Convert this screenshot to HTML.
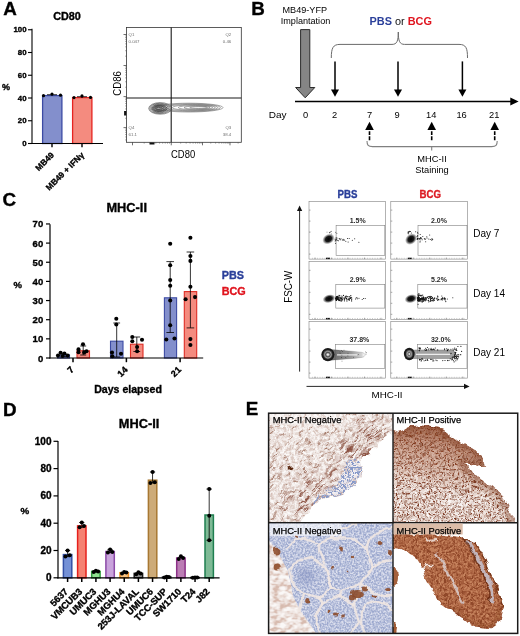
<!DOCTYPE html>
<html lang="en"><head><meta charset="utf-8"><title>Figure</title>
<style>
html,body{margin:0;padding:0;background:#fff;}
svg{display:block;font-family:"Liberation Sans",Arial,sans-serif;}
.b{font-weight:bold;}
</style></head><body>
<svg width="520" height="636" viewBox="0 0 520 636">
<rect width="520" height="636" fill="#fff"/>

<text x="3.3" y="15.2" font-size="18.8" font-weight="bold" stroke="#000" stroke-width="0.35" text-anchor="start" fill="#000">A</text>
<text x="251.2" y="15.2" font-size="18.8" font-weight="bold" stroke="#000" stroke-width="0.35" text-anchor="start" fill="#000">B</text>
<text x="2.6" y="205.6" font-size="18.8" font-weight="bold" stroke="#000" stroke-width="0.35" text-anchor="start" fill="#000">C</text>
<text x="3.0" y="415.7" font-size="18.8" font-weight="bold" stroke="#000" stroke-width="0.35" text-anchor="start" fill="#000">D</text>
<text x="245.8" y="415.2" font-size="18.8" font-weight="bold" stroke="#000" stroke-width="0.35" text-anchor="start" fill="#000">E</text>
<text x="67" y="19.7" font-size="10.8" font-weight="bold" stroke="#000" stroke-width="0.35" text-anchor="middle" fill="#000">CD80</text>
<line x1="32" y1="28.7" x2="32" y2="144.0" stroke="#000" stroke-width="1.1"/>
<line x1="31.5" y1="143.5" x2="103" y2="143.5" stroke="#000" stroke-width="1.1"/>
<line x1="28" y1="143.5" x2="32" y2="143.5" stroke="#000" stroke-width="1.1"/>
<text x="26.5" y="146.2" font-size="7.8" font-weight="bold" stroke="#000" stroke-width="0.35" text-anchor="end" fill="#000">0</text>
<line x1="28" y1="120.75" x2="32" y2="120.75" stroke="#000" stroke-width="1.1"/>
<text x="26.5" y="123.45" font-size="7.8" font-weight="bold" stroke="#000" stroke-width="0.35" text-anchor="end" fill="#000">20</text>
<line x1="28" y1="98.0" x2="32" y2="98.0" stroke="#000" stroke-width="1.1"/>
<text x="26.5" y="100.7" font-size="7.8" font-weight="bold" stroke="#000" stroke-width="0.35" text-anchor="end" fill="#000">40</text>
<line x1="28" y1="75.25" x2="32" y2="75.25" stroke="#000" stroke-width="1.1"/>
<text x="26.5" y="77.95" font-size="7.8" font-weight="bold" stroke="#000" stroke-width="0.35" text-anchor="end" fill="#000">60</text>
<line x1="28" y1="52.5" x2="32" y2="52.5" stroke="#000" stroke-width="1.1"/>
<text x="26.5" y="55.2" font-size="7.8" font-weight="bold" stroke="#000" stroke-width="0.35" text-anchor="end" fill="#000">80</text>
<line x1="28" y1="29.75" x2="32" y2="29.75" stroke="#000" stroke-width="1.1"/>
<text x="26.5" y="32.45" font-size="7.8" font-weight="bold" stroke="#000" stroke-width="0.35" text-anchor="end" fill="#000">100</text>
<text x="2" y="90" font-size="9" font-weight="bold" stroke="#000" stroke-width="0.35" text-anchor="start" fill="#000">%</text>
<rect x="42.6" y="95.6" width="19.299999999999997" height="47.9" fill="#838fcc" stroke="#3c4ba4" stroke-width="1.3"/>
<rect x="72.6" y="97.6" width="19.30000000000001" height="45.9" fill="#f48b7f" stroke="#e62420" stroke-width="1.3"/>
<line x1="31.5" y1="143.5" x2="103" y2="143.5" stroke="#000" stroke-width="1.1"/>
<line x1="47" y1="94.7" x2="57" y2="94.7" stroke="#000" stroke-width="0.8"/>
<line x1="52" y1="94.7" x2="52" y2="96" stroke="#000" stroke-width="0.8"/>
<circle cx="43.5" cy="95.7" r="1.6" fill="#000"/>
<circle cx="52.0" cy="94.0" r="1.6" fill="#000"/>
<circle cx="60.5" cy="95.2" r="1.6" fill="#000"/>
<line x1="77" y1="96.7" x2="87" y2="96.7" stroke="#000" stroke-width="0.8"/>
<line x1="82" y1="96.7" x2="82" y2="98" stroke="#000" stroke-width="0.8"/>
<circle cx="74.0" cy="97.6" r="1.6" fill="#000"/>
<circle cx="82.0" cy="95.9" r="1.6" fill="#000"/>
<circle cx="90.5" cy="97.4" r="1.6" fill="#000"/>
<line x1="52" y1="143.5" x2="52" y2="147.3" stroke="#000" stroke-width="1.4"/>
<line x1="82" y1="143.5" x2="82" y2="147.3" stroke="#000" stroke-width="1.4"/>
<text x="54.5" y="155.6" font-size="8.4" font-weight="bold" stroke="#000" stroke-width="0.35" text-anchor="end" fill="#000" transform="rotate(-45 54.5 155.6)">MB49</text>
<text x="84.7" y="155.6" font-size="8.4" font-weight="bold" stroke="#000" stroke-width="0.35" text-anchor="end" fill="#000" transform="rotate(-45 84.7 155.6)">MB49 + IFNγ</text>
<rect x="126.5" y="27.5" width="114.80000000000001" height="114.80000000000001" fill="#fff" stroke="#333" stroke-width="0.8"/>
<line x1="171.2" y1="27.5" x2="171.2" y2="142.3" stroke="#1a1a1a" stroke-width="1.1"/>
<line x1="126.5" y1="98" x2="241.3" y2="98" stroke="#1a1a1a" stroke-width="1.1"/>
<text x="0" y="0" font-size="10.8" text-anchor="middle" fill="#000" transform="translate(120.6 83.4) rotate(-90) scale(0.89 1)">CD86</text>
<text x="0" y="0" font-size="10.6" text-anchor="middle" fill="#000" transform="translate(183.1 158) scale(0.89 1)">CD80</text>
<text x="128.5" y="36" font-size="4.4" text-anchor="start" fill="#707070">Q1</text>
<text x="128.5" y="42.7" font-size="4.4" text-anchor="start" fill="#707070">0.047</text>
<text x="231.3" y="36" font-size="4.4" text-anchor="end" fill="#707070">Q2</text>
<text x="231.3" y="42.7" font-size="4.4" text-anchor="end" fill="#707070">0.46</text>
<text x="128.5" y="129.4" font-size="4.4" text-anchor="start" fill="#707070">Q4</text>
<text x="128.5" y="136.2" font-size="4.4" text-anchor="start" fill="#707070">61.1</text>
<text x="231.3" y="129.4" font-size="4.4" text-anchor="end" fill="#707070">Q3</text>
<text x="231.3" y="136.2" font-size="4.4" text-anchor="end" fill="#707070">38.4</text>
<g fill="none" stroke="#2a2a2a" stroke-width="0.5">
<ellipse cx="160.2" cy="108.4" rx="11.5" ry="5.8"/>
<ellipse cx="159.9" cy="108.4" rx="10.2" ry="5.1"/>
<ellipse cx="159.7" cy="108.4" rx="8.9" ry="4.4"/>
<ellipse cx="159.4" cy="108.4" rx="7.6" ry="3.8"/>
<ellipse cx="159.2" cy="108.4" rx="6.3" ry="3.1"/>
<ellipse cx="158.9" cy="108.4" rx="5.0" ry="2.4"/>
<ellipse cx="158.7" cy="108.4" rx="3.7" ry="1.7"/>
<ellipse cx="158.4" cy="108.4" rx="2.4" ry="1.0"/>
</g><g fill="none" stroke="#555" stroke-width="0.5">
<ellipse cx="189.0" cy="107.6" rx="34.0" ry="4.4"/>
<ellipse cx="190.6" cy="107.6" rx="29.8" ry="3.8"/>
<ellipse cx="192.2" cy="107.6" rx="25.6" ry="3.2"/>
<ellipse cx="193.8" cy="107.6" rx="21.4" ry="2.7"/>
<ellipse cx="195.4" cy="107.6" rx="17.2" ry="2.1"/>
<ellipse cx="197.0" cy="107.6" rx="13.0" ry="1.5"/>
<ellipse cx="198.6" cy="107.6" rx="8.8" ry="0.9"/>
</g>
<ellipse cx="159.5" cy="108.4" rx="8" ry="3.8" fill="#222" opacity="0.4"/>
<line x1="144.16491233197928" y1="142.3" x2="144.16491233197928" y2="143.70000000000002" stroke="#444" stroke-width="0.45"/>
<line x1="150.98844862038692" y1="142.3" x2="150.98844862038692" y2="143.70000000000002" stroke="#444" stroke-width="0.45"/>
<line x1="155.82982466395853" y1="142.3" x2="155.82982466395853" y2="143.70000000000002" stroke="#444" stroke-width="0.45"/>
<line x1="159.58508766802072" y1="142.3" x2="159.58508766802072" y2="143.70000000000002" stroke="#444" stroke-width="0.45"/>
<line x1="162.6533609523662" y1="142.3" x2="162.6533609523662" y2="143.70000000000002" stroke="#444" stroke-width="0.45"/>
<line x1="165.24754905055244" y1="142.3" x2="165.24754905055244" y2="143.70000000000002" stroke="#444" stroke-width="0.45"/>
<line x1="167.4947369959378" y1="142.3" x2="167.4947369959378" y2="143.70000000000002" stroke="#444" stroke-width="0.45"/>
<line x1="169.47689724077384" y1="142.3" x2="169.47689724077384" y2="143.70000000000002" stroke="#444" stroke-width="0.45"/>
<line x1="180.6571873644994" y1="142.3" x2="180.6571873644994" y2="143.70000000000002" stroke="#444" stroke-width="0.45"/>
<line x1="186.16003920998946" y1="142.3" x2="186.16003920998946" y2="143.70000000000002" stroke="#444" stroke-width="0.45"/>
<line x1="190.0643747289988" y1="142.3" x2="190.0643747289988" y2="143.70000000000002" stroke="#444" stroke-width="0.45"/>
<line x1="193.0928126355006" y1="142.3" x2="193.0928126355006" y2="143.70000000000002" stroke="#444" stroke-width="0.45"/>
<line x1="195.56722657448887" y1="142.3" x2="195.56722657448887" y2="143.70000000000002" stroke="#444" stroke-width="0.45"/>
<line x1="197.65931375044553" y1="142.3" x2="197.65931375044553" y2="143.70000000000002" stroke="#444" stroke-width="0.45"/>
<line x1="199.47156209349822" y1="142.3" x2="199.47156209349822" y2="143.70000000000002" stroke="#444" stroke-width="0.45"/>
<line x1="201.0700784199789" y1="142.3" x2="201.0700784199789" y2="143.70000000000002" stroke="#444" stroke-width="0.45"/>
<line x1="210.77832488075947" y1="142.3" x2="210.77832488075947" y2="143.70000000000002" stroke="#444" stroke-width="0.45"/>
<line x1="215.6208345047907" y1="142.3" x2="215.6208345047907" y2="143.70000000000002" stroke="#444" stroke-width="0.45"/>
<line x1="219.05664976151897" y1="142.3" x2="219.05664976151897" y2="143.70000000000002" stroke="#444" stroke-width="0.45"/>
<line x1="221.72167511924053" y1="142.3" x2="221.72167511924053" y2="143.70000000000002" stroke="#444" stroke-width="0.45"/>
<line x1="223.8991593855502" y1="142.3" x2="223.8991593855502" y2="143.70000000000002" stroke="#444" stroke-width="0.45"/>
<line x1="225.74019610039207" y1="142.3" x2="225.74019610039207" y2="143.70000000000002" stroke="#444" stroke-width="0.45"/>
<line x1="227.33497464227844" y1="142.3" x2="227.33497464227844" y2="143.70000000000002" stroke="#444" stroke-width="0.45"/>
<line x1="228.74166900958144" y1="142.3" x2="228.74166900958144" y2="143.70000000000002" stroke="#444" stroke-width="0.45"/>
<line x1="238.1278098829275" y1="142.3" x2="238.1278098829275" y2="143.70000000000002" stroke="#444" stroke-width="0.45"/>
<line x1="132.5" y1="142.3" x2="132.5" y2="145.3" stroke="#333" stroke-width="0.7"/>
<line x1="171.25" y1="142.3" x2="171.25" y2="145.3" stroke="#333" stroke-width="0.7"/>
<line x1="202.5" y1="142.3" x2="202.5" y2="145.3" stroke="#333" stroke-width="0.7"/>
<line x1="230" y1="142.3" x2="230" y2="145.3" stroke="#333" stroke-width="0.7"/>
<line x1="126.5" y1="139.93614026883316" x2="125.1" y2="139.93614026883316" stroke="#444" stroke-width="0.45"/>
<line x1="126.5" y1="136.9319298655834" x2="125.1" y2="136.9319298655834" stroke="#444" stroke-width="0.45"/>
<line x1="126.5" y1="134.47731123810703" x2="125.1" y2="134.47731123810703" stroke="#444" stroke-width="0.45"/>
<line x1="126.5" y1="132.40196075955802" x2="125.1" y2="132.40196075955802" stroke="#444" stroke-width="0.45"/>
<line x1="126.5" y1="130.60421040324974" x2="125.1" y2="130.60421040324974" stroke="#444" stroke-width="0.45"/>
<line x1="126.5" y1="129.0184822073809" x2="125.1" y2="129.0184822073809" stroke="#444" stroke-width="0.45"/>
<line x1="126.5" y1="118.26807013441658" x2="125.1" y2="118.26807013441658" stroke="#444" stroke-width="0.45"/>
<line x1="126.5" y1="112.80924110369045" x2="125.1" y2="112.80924110369045" stroke="#444" stroke-width="0.45"/>
<line x1="126.5" y1="108.93614026883316" x2="125.1" y2="108.93614026883316" stroke="#444" stroke-width="0.45"/>
<line x1="126.5" y1="105.93192986558341" x2="125.1" y2="105.93192986558341" stroke="#444" stroke-width="0.45"/>
<line x1="126.5" y1="103.47731123810703" x2="125.1" y2="103.47731123810703" stroke="#444" stroke-width="0.45"/>
<line x1="126.5" y1="101.40196075955804" x2="125.1" y2="101.40196075955804" stroke="#444" stroke-width="0.45"/>
<line x1="126.5" y1="99.60421040324974" x2="125.1" y2="99.60421040324974" stroke="#444" stroke-width="0.45"/>
<line x1="126.5" y1="98.01848220738093" x2="125.1" y2="98.01848220738093" stroke="#444" stroke-width="0.45"/>
<line x1="126.5" y1="87.23796713485018" x2="125.1" y2="87.23796713485018" stroke="#444" stroke-width="0.45"/>
<line x1="126.5" y1="81.7615289782185" x2="125.1" y2="81.7615289782185" stroke="#444" stroke-width="0.45"/>
<line x1="126.5" y1="77.87593426970037" x2="125.1" y2="77.87593426970037" stroke="#444" stroke-width="0.45"/>
<line x1="126.5" y1="74.86203286514981" x2="125.1" y2="74.86203286514981" stroke="#444" stroke-width="0.45"/>
<line x1="126.5" y1="72.39949611306868" x2="125.1" y2="72.39949611306868" stroke="#444" stroke-width="0.45"/>
<line x1="126.5" y1="70.31745095555661" x2="125.1" y2="70.31745095555661" stroke="#444" stroke-width="0.45"/>
<line x1="126.5" y1="68.51390140455055" x2="125.1" y2="68.51390140455055" stroke="#444" stroke-width="0.45"/>
<line x1="126.5" y1="66.92305795643699" x2="125.1" y2="66.92305795643699" stroke="#444" stroke-width="0.45"/>
<line x1="126.5" y1="56.16807013441658" x2="125.1" y2="56.16807013441658" stroke="#444" stroke-width="0.45"/>
<line x1="126.5" y1="50.709241103690466" x2="125.1" y2="50.709241103690466" stroke="#444" stroke-width="0.45"/>
<line x1="126.5" y1="46.83614026883316" x2="125.1" y2="46.83614026883316" stroke="#444" stroke-width="0.45"/>
<line x1="126.5" y1="43.83192986558342" x2="125.1" y2="43.83192986558342" stroke="#444" stroke-width="0.45"/>
<line x1="126.5" y1="41.37731123810705" x2="125.1" y2="41.37731123810705" stroke="#444" stroke-width="0.45"/>
<line x1="126.5" y1="39.30196075955804" x2="125.1" y2="39.30196075955804" stroke="#444" stroke-width="0.45"/>
<line x1="126.5" y1="37.50421040324975" x2="125.1" y2="37.50421040324975" stroke="#444" stroke-width="0.45"/>
<line x1="126.5" y1="35.91848220738093" x2="125.1" y2="35.91848220738093" stroke="#444" stroke-width="0.45"/>
<line x1="126.5" y1="127.6" x2="123.5" y2="127.6" stroke="#333" stroke-width="0.7"/>
<line x1="126.5" y1="96.6" x2="123.5" y2="96.6" stroke="#333" stroke-width="0.7"/>
<line x1="126.5" y1="65.5" x2="123.5" y2="65.5" stroke="#333" stroke-width="0.7"/>
<line x1="126.5" y1="34.5" x2="123.5" y2="34.5" stroke="#333" stroke-width="0.7"/>
<rect x="149.5" y="142.5" width="5" height="2" fill="#111"/>
<rect x="124.1" y="111" width="2.2" height="4.5" fill="#111"/>
<text x="304.8" y="13.1" font-size="9.1" text-anchor="middle" fill="#000">MB49-YFP</text>
<text x="305.5" y="23.5" font-size="9.1" text-anchor="middle" fill="#000">Implantation</text>
<polygon points="300.6,29.6 309.8,29.6 309.8,87.5 314.8,87.5 305.2,97.8 295.6,87.5 300.6,87.5" fill="#858585" stroke="#2a2a2a" stroke-width="1"/>
<line x1="295" y1="101.5" x2="513" y2="101.5" stroke="#000" stroke-width="1.6"/>
<polygon points="518.6,101.4 510.3,97.4 510.3,105.4" fill="#000"/>
<line x1="335" y1="61.4" x2="335" y2="91" stroke="#000" stroke-width="1.5"/>
<polygon points="335,96.8 331,89.4 339,89.4" fill="#000"/>
<line x1="398" y1="61.4" x2="398" y2="91" stroke="#000" stroke-width="1.5"/>
<polygon points="398,96.8 394,89.4 402,89.4" fill="#000"/>
<line x1="462.4" y1="61.4" x2="462.4" y2="91" stroke="#000" stroke-width="1.5"/>
<polygon points="462.4,96.8 458.4,89.4 466.4,89.4" fill="#000"/>
<path d="M331.3,58 C331.3,48 333,44.4 340,44.4 L392,44.4 C397,44.4 398.3,41 398.3,32 C398.3,41 399.6,44.4 404.6,44.4 L459,44.4 C466,44.4 467.5,48 467.5,58" fill="none" stroke="#6a6a6a" stroke-width="1"/>
<text x="369.6" y="24.8" font-size="10.9"><tspan font-weight="bold" fill="#2a3f9a">PBS</tspan><tspan fill="#111"> or </tspan><tspan font-weight="bold" fill="#e0141e">BCG</tspan></text>
<text x="0" y="0" font-size="9.2" text-anchor="start" fill="#000" transform="translate(268.7 117.9) scale(1.09 1)">Day</text>
<text x="305.7" y="117.9" font-size="9.3" text-anchor="middle" fill="#000">0</text>
<text x="334.5" y="117.9" font-size="9.3" text-anchor="middle" fill="#000">2</text>
<text x="369.5" y="117.9" font-size="9.3" text-anchor="middle" fill="#000">7</text>
<text x="397.2" y="117.9" font-size="9.3" text-anchor="middle" fill="#000">9</text>
<text x="431.2" y="117.9" font-size="9.3" text-anchor="middle" fill="#000">14</text>
<text x="461.6" y="117.9" font-size="9.3" text-anchor="middle" fill="#000">16</text>
<text x="494.2" y="117.9" font-size="9.3" text-anchor="middle" fill="#000">21</text>
<polygon points="369.5,121.8 365.2,129.9 373.8,129.9" fill="#000"/>
<line x1="369.5" y1="131.2" x2="369.5" y2="141" stroke="#000" stroke-width="1.6" stroke-dasharray="3.9,1.2"/>
<polygon points="431.7,121.8 427.4,129.9 436.0,129.9" fill="#000"/>
<line x1="431.7" y1="131.2" x2="431.7" y2="141" stroke="#000" stroke-width="1.6" stroke-dasharray="3.9,1.2"/>
<polygon points="494.7,121.8 490.4,129.9 499.0,129.9" fill="#000"/>
<line x1="494.7" y1="131.2" x2="494.7" y2="141" stroke="#000" stroke-width="1.6" stroke-dasharray="3.9,1.2"/>
<path d="M367,141 C367,145.2 368.2,146.6 372.5,146.6 L491.7,146.6 C496,146.6 497.2,145.2 497.2,141" fill="none" stroke="#808080" stroke-width="1.1"/>
<line x1="431.7" y1="146.6" x2="431.7" y2="150.6" stroke="#808080" stroke-width="1.1"/>
<text x="432" y="162.2" font-size="9.3" text-anchor="middle" fill="#000">MHC-II</text>
<text x="432" y="173" font-size="9.3" text-anchor="middle" fill="#000">Staining</text>
<text x="0" y="0" font-size="10.3" font-weight="bold" stroke="#2a3f9a" stroke-width="0.35" text-anchor="middle" fill="#2a3f9a" transform="translate(347.4 198) scale(0.94 1)">PBS</text>
<text x="0" y="0" font-size="10.3" font-weight="bold" stroke="#dc1c24" stroke-width="0.35" text-anchor="middle" fill="#dc1c24" transform="translate(430.2 197.8) scale(0.94 1)">BCG</text>
<rect x="309" y="201.4" width="76.39999999999998" height="57.70000000000002" fill="#fff" stroke="#808080" stroke-width="0.6"/>
<line x1="315.0" y1="257.6" x2="315.0" y2="259.1" stroke="#555" stroke-width="0.5"/>
<line x1="331.5" y1="257.6" x2="331.5" y2="259.1" stroke="#555" stroke-width="0.5"/>
<line x1="348.0" y1="257.6" x2="348.0" y2="259.1" stroke="#555" stroke-width="0.5"/>
<line x1="364.5" y1="257.6" x2="364.5" y2="259.1" stroke="#555" stroke-width="0.5"/>
<line x1="381.0" y1="257.6" x2="381.0" y2="259.1" stroke="#555" stroke-width="0.5"/>
<line x1="309" y1="254.10000000000002" x2="310.5" y2="254.10000000000002" stroke="#555" stroke-width="0.5"/>
<line x1="309" y1="243.10000000000002" x2="310.5" y2="243.10000000000002" stroke="#555" stroke-width="0.5"/>
<line x1="309" y1="232.10000000000002" x2="310.5" y2="232.10000000000002" stroke="#555" stroke-width="0.5"/>
<line x1="309" y1="221.10000000000002" x2="310.5" y2="221.10000000000002" stroke="#555" stroke-width="0.5"/>
<line x1="309" y1="210.10000000000002" x2="310.5" y2="210.10000000000002" stroke="#555" stroke-width="0.5"/>
<rect x="326" y="257.70000000000005" width="4" height="1.4" fill="#111"/>
<line x1="312" y1="258.3" x2="382.4" y2="258.3" stroke="#999" stroke-width="0.5" stroke-dasharray="1,1.5"/>
<rect x="390.8" y="201.4" width="76.69999999999999" height="57.70000000000002" fill="#fff" stroke="#808080" stroke-width="0.6"/>
<line x1="396.8" y1="257.6" x2="396.8" y2="259.1" stroke="#555" stroke-width="0.5"/>
<line x1="413.3" y1="257.6" x2="413.3" y2="259.1" stroke="#555" stroke-width="0.5"/>
<line x1="429.8" y1="257.6" x2="429.8" y2="259.1" stroke="#555" stroke-width="0.5"/>
<line x1="446.3" y1="257.6" x2="446.3" y2="259.1" stroke="#555" stroke-width="0.5"/>
<line x1="462.8" y1="257.6" x2="462.8" y2="259.1" stroke="#555" stroke-width="0.5"/>
<line x1="390.8" y1="254.10000000000002" x2="392.3" y2="254.10000000000002" stroke="#555" stroke-width="0.5"/>
<line x1="390.8" y1="243.10000000000002" x2="392.3" y2="243.10000000000002" stroke="#555" stroke-width="0.5"/>
<line x1="390.8" y1="232.10000000000002" x2="392.3" y2="232.10000000000002" stroke="#555" stroke-width="0.5"/>
<line x1="390.8" y1="221.10000000000002" x2="392.3" y2="221.10000000000002" stroke="#555" stroke-width="0.5"/>
<line x1="390.8" y1="210.10000000000002" x2="392.3" y2="210.10000000000002" stroke="#555" stroke-width="0.5"/>
<rect x="407.8" y="257.70000000000005" width="4" height="1.4" fill="#111"/>
<line x1="393.8" y1="258.3" x2="464.5" y2="258.3" stroke="#999" stroke-width="0.5" stroke-dasharray="1,1.5"/>
<rect x="309" y="261.6" width="76.39999999999998" height="57.69999999999999" fill="#fff" stroke="#808080" stroke-width="0.6"/>
<line x1="315.0" y1="317.8" x2="315.0" y2="319.3" stroke="#555" stroke-width="0.5"/>
<line x1="331.5" y1="317.8" x2="331.5" y2="319.3" stroke="#555" stroke-width="0.5"/>
<line x1="348.0" y1="317.8" x2="348.0" y2="319.3" stroke="#555" stroke-width="0.5"/>
<line x1="364.5" y1="317.8" x2="364.5" y2="319.3" stroke="#555" stroke-width="0.5"/>
<line x1="381.0" y1="317.8" x2="381.0" y2="319.3" stroke="#555" stroke-width="0.5"/>
<line x1="309" y1="314.3" x2="310.5" y2="314.3" stroke="#555" stroke-width="0.5"/>
<line x1="309" y1="303.3" x2="310.5" y2="303.3" stroke="#555" stroke-width="0.5"/>
<line x1="309" y1="292.3" x2="310.5" y2="292.3" stroke="#555" stroke-width="0.5"/>
<line x1="309" y1="281.3" x2="310.5" y2="281.3" stroke="#555" stroke-width="0.5"/>
<line x1="309" y1="270.3" x2="310.5" y2="270.3" stroke="#555" stroke-width="0.5"/>
<rect x="326" y="317.90000000000003" width="4" height="1.4" fill="#111"/>
<line x1="312" y1="318.5" x2="382.4" y2="318.5" stroke="#999" stroke-width="0.5" stroke-dasharray="1,1.5"/>
<rect x="390.8" y="261.6" width="76.69999999999999" height="57.69999999999999" fill="#fff" stroke="#808080" stroke-width="0.6"/>
<line x1="396.8" y1="317.8" x2="396.8" y2="319.3" stroke="#555" stroke-width="0.5"/>
<line x1="413.3" y1="317.8" x2="413.3" y2="319.3" stroke="#555" stroke-width="0.5"/>
<line x1="429.8" y1="317.8" x2="429.8" y2="319.3" stroke="#555" stroke-width="0.5"/>
<line x1="446.3" y1="317.8" x2="446.3" y2="319.3" stroke="#555" stroke-width="0.5"/>
<line x1="462.8" y1="317.8" x2="462.8" y2="319.3" stroke="#555" stroke-width="0.5"/>
<line x1="390.8" y1="314.3" x2="392.3" y2="314.3" stroke="#555" stroke-width="0.5"/>
<line x1="390.8" y1="303.3" x2="392.3" y2="303.3" stroke="#555" stroke-width="0.5"/>
<line x1="390.8" y1="292.3" x2="392.3" y2="292.3" stroke="#555" stroke-width="0.5"/>
<line x1="390.8" y1="281.3" x2="392.3" y2="281.3" stroke="#555" stroke-width="0.5"/>
<line x1="390.8" y1="270.3" x2="392.3" y2="270.3" stroke="#555" stroke-width="0.5"/>
<rect x="407.8" y="317.90000000000003" width="4" height="1.4" fill="#111"/>
<line x1="393.8" y1="318.5" x2="464.5" y2="318.5" stroke="#999" stroke-width="0.5" stroke-dasharray="1,1.5"/>
<rect x="309" y="321.4" width="76.39999999999998" height="56.700000000000045" fill="#fff" stroke="#808080" stroke-width="0.6"/>
<line x1="315.0" y1="376.6" x2="315.0" y2="378.1" stroke="#555" stroke-width="0.5"/>
<line x1="331.5" y1="376.6" x2="331.5" y2="378.1" stroke="#555" stroke-width="0.5"/>
<line x1="348.0" y1="376.6" x2="348.0" y2="378.1" stroke="#555" stroke-width="0.5"/>
<line x1="364.5" y1="376.6" x2="364.5" y2="378.1" stroke="#555" stroke-width="0.5"/>
<line x1="381.0" y1="376.6" x2="381.0" y2="378.1" stroke="#555" stroke-width="0.5"/>
<line x1="309" y1="373.1" x2="310.5" y2="373.1" stroke="#555" stroke-width="0.5"/>
<line x1="309" y1="362.1" x2="310.5" y2="362.1" stroke="#555" stroke-width="0.5"/>
<line x1="309" y1="351.1" x2="310.5" y2="351.1" stroke="#555" stroke-width="0.5"/>
<line x1="309" y1="340.1" x2="310.5" y2="340.1" stroke="#555" stroke-width="0.5"/>
<line x1="309" y1="329.1" x2="310.5" y2="329.1" stroke="#555" stroke-width="0.5"/>
<rect x="326" y="376.70000000000005" width="4" height="1.4" fill="#111"/>
<line x1="312" y1="377.3" x2="382.4" y2="377.3" stroke="#999" stroke-width="0.5" stroke-dasharray="1,1.5"/>
<rect x="390.8" y="321.4" width="76.69999999999999" height="56.700000000000045" fill="#fff" stroke="#808080" stroke-width="0.6"/>
<line x1="396.8" y1="376.6" x2="396.8" y2="378.1" stroke="#555" stroke-width="0.5"/>
<line x1="413.3" y1="376.6" x2="413.3" y2="378.1" stroke="#555" stroke-width="0.5"/>
<line x1="429.8" y1="376.6" x2="429.8" y2="378.1" stroke="#555" stroke-width="0.5"/>
<line x1="446.3" y1="376.6" x2="446.3" y2="378.1" stroke="#555" stroke-width="0.5"/>
<line x1="462.8" y1="376.6" x2="462.8" y2="378.1" stroke="#555" stroke-width="0.5"/>
<line x1="390.8" y1="373.1" x2="392.3" y2="373.1" stroke="#555" stroke-width="0.5"/>
<line x1="390.8" y1="362.1" x2="392.3" y2="362.1" stroke="#555" stroke-width="0.5"/>
<line x1="390.8" y1="351.1" x2="392.3" y2="351.1" stroke="#555" stroke-width="0.5"/>
<line x1="390.8" y1="340.1" x2="392.3" y2="340.1" stroke="#555" stroke-width="0.5"/>
<line x1="390.8" y1="329.1" x2="392.3" y2="329.1" stroke="#555" stroke-width="0.5"/>
<rect x="407.8" y="376.70000000000005" width="4" height="1.4" fill="#111"/>
<line x1="393.8" y1="377.3" x2="464.5" y2="377.3" stroke="#999" stroke-width="0.5" stroke-dasharray="1,1.5"/>
<rect x="336.1" y="225.3" width="48.69999999999999" height="30.399999999999977" fill="none" stroke="#808080" stroke-width="0.6"/>
<rect x="418" y="225.4" width="49" height="30.099999999999994" fill="none" stroke="#808080" stroke-width="0.6"/>
<rect x="335.8" y="284.4" width="49.0" height="23.700000000000045" fill="none" stroke="#808080" stroke-width="0.6"/>
<rect x="417.8" y="284.6" width="49.19999999999999" height="23.5" fill="none" stroke="#808080" stroke-width="0.6"/>
<rect x="335.5" y="344.3" width="49.30000000000001" height="24.099999999999966" fill="none" stroke="#808080" stroke-width="0.6"/>
<rect x="417.5" y="344.3" width="49.5" height="24.19999999999999" fill="none" stroke="#808080" stroke-width="0.6"/>
<text x="357.7" y="223.2" font-size="6.99" font-weight="bold" text-anchor="middle" fill="#2a2a2a">1.5%</text>
<text x="439" y="222.79999999999998" font-size="6.99" font-weight="bold" text-anchor="middle" fill="#2a2a2a">2.0%</text>
<text x="357.7" y="282.4" font-size="6.99" font-weight="bold" text-anchor="middle" fill="#2a2a2a">2.9%</text>
<text x="439" y="282.3" font-size="6.99" font-weight="bold" text-anchor="middle" fill="#2a2a2a">5.2%</text>
<text x="359.4" y="341.8" font-size="6.99" font-weight="bold" text-anchor="middle" fill="#2a2a2a">37.8%</text>
<text x="440.8" y="341.5" font-size="6.99" font-weight="bold" text-anchor="middle" fill="#2a2a2a">32.0%</text>
<defs><radialGradient id="bl"><stop offset="0" stop-color="#000"/><stop offset="0.5" stop-color="#1a1a1a"/><stop offset="0.75" stop-color="#666" stop-opacity="0.7"/><stop offset="1" stop-color="#999" stop-opacity="0"/></radialGradient></defs>
<ellipse cx="328.5" cy="239" rx="6.6" ry="5" fill="url(#bl)" transform="rotate(-30 328.5 239)"/>
<circle cx="338.3" cy="240.7" r="0.5" fill="#111"/>
<circle cx="335.2" cy="241.1" r="0.5" fill="#111"/>
<circle cx="343.1" cy="239.2" r="0.5" fill="#111"/>
<circle cx="342.4" cy="239.9" r="0.5" fill="#111"/>
<circle cx="335.1" cy="239.0" r="0.5" fill="#111"/>
<circle cx="335.3" cy="239.7" r="0.5" fill="#111"/>
<circle cx="340.3" cy="239.8" r="0.5" fill="#111"/>
<circle cx="336.7" cy="238.9" r="0.5" fill="#111"/>
<circle cx="345.8" cy="241.2" r="0.5" fill="#111"/>
<circle cx="339.7" cy="238.9" r="0.5" fill="#111"/>
<circle cx="358.9" cy="242.2" r="0.5" fill="#111"/>
<circle cx="337.7" cy="240.3" r="0.5" fill="#111"/>
<circle cx="335.8" cy="240.4" r="0.5" fill="#111"/>
<circle cx="352.3" cy="240.3" r="0.5" fill="#111"/>
<circle cx="336.1" cy="237.8" r="0.5" fill="#111"/>
<circle cx="339.2" cy="238.5" r="0.5" fill="#111"/>
<circle cx="343.5" cy="240.0" r="0.5" fill="#111"/>
<circle cx="336.5" cy="239.7" r="0.5" fill="#111"/>
<circle cx="347.5" cy="238.4" r="0.5" fill="#111"/>
<circle cx="344.5" cy="240.0" r="0.5" fill="#111"/>
<circle cx="341.0" cy="238.7" r="0.5" fill="#111"/>
<circle cx="348.1" cy="241.9" r="0.5" fill="#111"/>
<circle cx="337.0" cy="238.0" r="0.5" fill="#111"/>
<circle cx="354.7" cy="238.7" r="0.5" fill="#111"/>
<circle cx="349.2" cy="238.6" r="0.5" fill="#111"/>
<circle cx="335.5" cy="243.3" r="0.5" fill="#111"/>
<circle cx="329.3" cy="232.8" r="0.45" fill="#111"/>
<circle cx="330.0" cy="232.3" r="0.45" fill="#111"/>
<circle cx="327.0" cy="232.1" r="0.45" fill="#111"/>
<circle cx="331.0" cy="231.6" r="0.45" fill="#111"/>
<circle cx="335.7" cy="232.3" r="0.45" fill="#111"/>
<circle cx="331.3" cy="233.9" r="0.45" fill="#111"/>
<circle cx="331.1" cy="231.3" r="0.45" fill="#111"/>
<circle cx="336.9" cy="233.2" r="0.45" fill="#111"/>
<circle cx="329.9" cy="232.7" r="0.45" fill="#111"/>
<ellipse cx="411" cy="239.1" rx="6.6" ry="5.2" fill="url(#bl)" transform="rotate(-40 411 239.1)"/>
<circle cx="427.0" cy="238.0" r="0.5" fill="#111"/>
<circle cx="425.7" cy="241.8" r="0.5" fill="#111"/>
<circle cx="419.0" cy="238.4" r="0.5" fill="#111"/>
<circle cx="420.4" cy="238.3" r="0.5" fill="#111"/>
<circle cx="421.7" cy="238.2" r="0.5" fill="#111"/>
<circle cx="417.8" cy="239.0" r="0.5" fill="#111"/>
<circle cx="428.8" cy="238.9" r="0.5" fill="#111"/>
<circle cx="417.5" cy="238.5" r="0.5" fill="#111"/>
<circle cx="431.8" cy="240.3" r="0.5" fill="#111"/>
<circle cx="417.2" cy="236.3" r="0.5" fill="#111"/>
<circle cx="432.2" cy="239.2" r="0.5" fill="#111"/>
<circle cx="430.3" cy="239.5" r="0.5" fill="#111"/>
<circle cx="420.9" cy="237.4" r="0.5" fill="#111"/>
<circle cx="420.0" cy="241.9" r="0.5" fill="#111"/>
<circle cx="417.6" cy="235.5" r="0.5" fill="#111"/>
<circle cx="417.8" cy="238.6" r="0.5" fill="#111"/>
<circle cx="422.2" cy="239.8" r="0.5" fill="#111"/>
<circle cx="424.3" cy="238.5" r="0.5" fill="#111"/>
<circle cx="421.0" cy="238.7" r="0.5" fill="#111"/>
<circle cx="420.2" cy="234.4" r="0.5" fill="#111"/>
<circle cx="426.8" cy="236.7" r="0.5" fill="#111"/>
<circle cx="422.8" cy="236.5" r="0.5" fill="#111"/>
<circle cx="417.1" cy="236.7" r="0.5" fill="#111"/>
<circle cx="432.7" cy="239.2" r="0.5" fill="#111"/>
<circle cx="429.7" cy="234.9" r="0.5" fill="#111"/>
<circle cx="420.5" cy="237.8" r="0.5" fill="#111"/>
<circle cx="425.4" cy="239.0" r="0.5" fill="#111"/>
<circle cx="417.1" cy="239.6" r="0.5" fill="#111"/>
<circle cx="417.7" cy="239.0" r="0.5" fill="#111"/>
<circle cx="419.7" cy="238.5" r="0.5" fill="#111"/>
<circle cx="417.6" cy="238.5" r="0.5" fill="#111"/>
<circle cx="417.3" cy="238.2" r="0.5" fill="#111"/>
<circle cx="431.9" cy="238.8" r="0.5" fill="#111"/>
<circle cx="424.9" cy="239.3" r="0.5" fill="#111"/>
<circle cx="419.8" cy="239.6" r="0.5" fill="#111"/>
<circle cx="420.1" cy="241.0" r="0.5" fill="#111"/>
<circle cx="417.9" cy="233.2" r="0.5" fill="#111"/>
<circle cx="410.5" cy="231.6" r="0.5" fill="#111"/>
<circle cx="408.2" cy="232.0" r="0.5" fill="#111"/>
<circle cx="409.5" cy="231.8" r="0.5" fill="#111"/>
<circle cx="408.4" cy="233.7" r="0.5" fill="#111"/>
<circle cx="408.0" cy="233.1" r="0.5" fill="#111"/>
<circle cx="408.3" cy="231.7" r="0.5" fill="#111"/>
<circle cx="411.3" cy="233.1" r="0.5" fill="#111"/>
<circle cx="417.6" cy="232.2" r="0.5" fill="#111"/>
<circle cx="415.7" cy="231.8" r="0.5" fill="#111"/>
<circle cx="409.6" cy="231.3" r="0.5" fill="#111"/>
<circle cx="408.4" cy="232.2" r="0.5" fill="#111"/>
<ellipse cx="329" cy="298.7" rx="6.6" ry="4.3" fill="url(#bl)" transform="rotate(-15 329 298.7)"/>
<circle cx="346.2" cy="297.0" r="0.6" fill="#111"/>
<circle cx="338.2" cy="299.0" r="0.6" fill="#111"/>
<circle cx="351.6" cy="300.9" r="0.6" fill="#111"/>
<circle cx="348.0" cy="299.4" r="0.6" fill="#111"/>
<circle cx="345.3" cy="296.3" r="0.6" fill="#111"/>
<circle cx="337.1" cy="297.4" r="0.6" fill="#111"/>
<circle cx="336.0" cy="298.5" r="0.6" fill="#111"/>
<circle cx="336.0" cy="298.4" r="0.6" fill="#111"/>
<circle cx="344.3" cy="299.6" r="0.6" fill="#111"/>
<circle cx="350.8" cy="295.7" r="0.6" fill="#111"/>
<circle cx="351.7" cy="299.6" r="0.6" fill="#111"/>
<circle cx="350.7" cy="298.0" r="0.6" fill="#111"/>
<circle cx="337.1" cy="299.3" r="0.6" fill="#111"/>
<circle cx="336.9" cy="299.1" r="0.6" fill="#111"/>
<circle cx="349.2" cy="300.3" r="0.6" fill="#111"/>
<circle cx="347.7" cy="296.7" r="0.6" fill="#111"/>
<circle cx="346.7" cy="298.8" r="0.6" fill="#111"/>
<circle cx="336.2" cy="297.1" r="0.6" fill="#111"/>
<circle cx="346.3" cy="296.2" r="0.6" fill="#111"/>
<circle cx="345.5" cy="297.8" r="0.6" fill="#111"/>
<circle cx="346.4" cy="298.7" r="0.6" fill="#111"/>
<circle cx="338.2" cy="299.7" r="0.6" fill="#111"/>
<circle cx="339.0" cy="295.3" r="0.6" fill="#111"/>
<circle cx="339.1" cy="300.6" r="0.6" fill="#111"/>
<circle cx="336.7" cy="297.9" r="0.6" fill="#111"/>
<circle cx="336.4" cy="300.2" r="0.6" fill="#111"/>
<circle cx="346.9" cy="300.9" r="0.6" fill="#111"/>
<circle cx="336.5" cy="300.3" r="0.6" fill="#111"/>
<circle cx="343.5" cy="295.4" r="0.6" fill="#111"/>
<circle cx="338.4" cy="297.9" r="0.6" fill="#111"/>
<circle cx="336.0" cy="298.4" r="0.6" fill="#111"/>
<circle cx="351.2" cy="297.7" r="0.6" fill="#111"/>
<circle cx="350.1" cy="297.3" r="0.6" fill="#111"/>
<circle cx="339.6" cy="300.3" r="0.6" fill="#111"/>
<circle cx="337.0" cy="296.8" r="0.6" fill="#111"/>
<circle cx="337.3" cy="298.3" r="0.6" fill="#111"/>
<circle cx="342.1" cy="299.5" r="0.6" fill="#111"/>
<circle cx="337.4" cy="298.0" r="0.6" fill="#111"/>
<circle cx="349.5" cy="298.9" r="0.6" fill="#111"/>
<circle cx="338.5" cy="296.9" r="0.6" fill="#111"/>
<circle cx="349.3" cy="299.0" r="0.6" fill="#111"/>
<circle cx="339.4" cy="299.9" r="0.6" fill="#111"/>
<circle cx="341.1" cy="297.8" r="0.6" fill="#111"/>
<circle cx="341.0" cy="300.0" r="0.6" fill="#111"/>
<circle cx="336.8" cy="298.8" r="0.6" fill="#111"/>
<circle cx="336.0" cy="298.8" r="0.6" fill="#111"/>
<circle cx="340.2" cy="297.8" r="0.6" fill="#111"/>
<circle cx="345.0" cy="297.5" r="0.6" fill="#111"/>
<circle cx="340.9" cy="298.2" r="0.6" fill="#111"/>
<circle cx="341.6" cy="298.7" r="0.6" fill="#111"/>
<circle cx="341.6" cy="298.0" r="0.6" fill="#111"/>
<circle cx="337.3" cy="298.2" r="0.6" fill="#111"/>
<circle cx="340.7" cy="300.8" r="0.6" fill="#111"/>
<circle cx="341.7" cy="298.8" r="0.6" fill="#111"/>
<circle cx="339.7" cy="295.7" r="0.6" fill="#111"/>
<circle cx="342.6" cy="297.0" r="0.6" fill="#111"/>
<circle cx="344.3" cy="298.5" r="0.6" fill="#111"/>
<circle cx="339.8" cy="297.1" r="0.6" fill="#111"/>
<circle cx="350.4" cy="298.3" r="0.6" fill="#111"/>
<circle cx="344.4" cy="300.8" r="0.6" fill="#111"/>
<circle cx="337.4" cy="296.4" r="0.6" fill="#111"/>
<circle cx="341.6" cy="300.9" r="0.6" fill="#111"/>
<circle cx="336.4" cy="297.7" r="0.6" fill="#111"/>
<circle cx="336.4" cy="298.1" r="0.6" fill="#111"/>
<circle cx="337.2" cy="298.8" r="0.6" fill="#111"/>
<circle cx="336.1" cy="297.5" r="0.6" fill="#111"/>
<circle cx="349.2" cy="296.6" r="0.6" fill="#111"/>
<circle cx="336.6" cy="298.2" r="0.6" fill="#111"/>
<circle cx="336.5" cy="296.7" r="0.6" fill="#111"/>
<circle cx="348.8" cy="299.5" r="0.6" fill="#111"/>
<circle cx="363.5" cy="298.5" r="0.5" fill="#111"/>
<circle cx="341.7" cy="295.9" r="0.5" fill="#111"/>
<circle cx="357.6" cy="298.8" r="0.5" fill="#111"/>
<circle cx="337.1" cy="297.6" r="0.5" fill="#111"/>
<circle cx="340.3" cy="299.1" r="0.5" fill="#111"/>
<circle cx="337.6" cy="298.0" r="0.5" fill="#111"/>
<circle cx="336.0" cy="299.9" r="0.5" fill="#111"/>
<circle cx="346.4" cy="298.4" r="0.5" fill="#111"/>
<circle cx="340.1" cy="298.7" r="0.5" fill="#111"/>
<circle cx="348.8" cy="298.3" r="0.5" fill="#111"/>
<circle cx="365.2" cy="298.6" r="0.5" fill="#111"/>
<circle cx="355.6" cy="299.0" r="0.5" fill="#111"/>
<circle cx="338.8" cy="298.5" r="0.5" fill="#111"/>
<circle cx="336.1" cy="298.7" r="0.5" fill="#111"/>
<circle cx="336.8" cy="297.9" r="0.5" fill="#111"/>
<circle cx="342.4" cy="300.0" r="0.5" fill="#111"/>
<circle cx="338.6" cy="297.7" r="0.5" fill="#111"/>
<circle cx="337.0" cy="299.6" r="0.5" fill="#111"/>
<circle cx="351.8" cy="298.0" r="0.5" fill="#111"/>
<circle cx="336.4" cy="299.9" r="0.5" fill="#111"/>
<circle cx="342.4" cy="299.1" r="0.5" fill="#111"/>
<circle cx="336.3" cy="299.8" r="0.5" fill="#111"/>
<circle cx="356.1" cy="298.1" r="0.5" fill="#111"/>
<circle cx="336.3" cy="298.8" r="0.5" fill="#111"/>
<circle cx="359.0" cy="298.3" r="0.5" fill="#111"/>
<circle cx="343.2" cy="298.0" r="0.5" fill="#111"/>
<circle cx="362.2" cy="299.6" r="0.5" fill="#111"/>
<circle cx="338.8" cy="299.4" r="0.5" fill="#111"/>
<circle cx="338.3" cy="299.4" r="0.5" fill="#111"/>
<circle cx="336.6" cy="298.8" r="0.5" fill="#111"/>
<circle cx="337.7" cy="298.8" r="0.5" fill="#111"/>
<circle cx="339.7" cy="298.1" r="0.5" fill="#111"/>
<circle cx="339.2" cy="300.0" r="0.5" fill="#111"/>
<circle cx="344.6" cy="299.0" r="0.5" fill="#111"/>
<circle cx="336.0" cy="299.3" r="0.5" fill="#111"/>
<circle cx="338.5" cy="300.1" r="0.5" fill="#111"/>
<circle cx="346.3" cy="298.7" r="0.5" fill="#111"/>
<circle cx="337.5" cy="296.5" r="0.5" fill="#111"/>
<circle cx="336.5" cy="298.9" r="0.5" fill="#111"/>
<circle cx="356.9" cy="297.6" r="0.5" fill="#111"/>
<ellipse cx="411" cy="298.7" rx="6.6" ry="4.4" fill="url(#bl)" transform="rotate(-15 411 298.7)"/>
<circle cx="438.2" cy="299.4" r="0.6" fill="#111"/>
<circle cx="423.2" cy="296.8" r="0.6" fill="#111"/>
<circle cx="445.1" cy="298.7" r="0.6" fill="#111"/>
<circle cx="422.1" cy="299.8" r="0.6" fill="#111"/>
<circle cx="430.4" cy="297.0" r="0.6" fill="#111"/>
<circle cx="423.5" cy="298.5" r="0.6" fill="#111"/>
<circle cx="418.7" cy="299.2" r="0.6" fill="#111"/>
<circle cx="418.2" cy="298.7" r="0.6" fill="#111"/>
<circle cx="419.1" cy="297.8" r="0.6" fill="#111"/>
<circle cx="418.3" cy="300.2" r="0.6" fill="#111"/>
<circle cx="431.6" cy="296.6" r="0.6" fill="#111"/>
<circle cx="420.9" cy="298.9" r="0.6" fill="#111"/>
<circle cx="424.9" cy="299.9" r="0.6" fill="#111"/>
<circle cx="419.0" cy="297.8" r="0.6" fill="#111"/>
<circle cx="444.1" cy="299.1" r="0.6" fill="#111"/>
<circle cx="444.6" cy="297.9" r="0.6" fill="#111"/>
<circle cx="444.3" cy="298.5" r="0.6" fill="#111"/>
<circle cx="421.4" cy="298.8" r="0.6" fill="#111"/>
<circle cx="422.9" cy="298.8" r="0.6" fill="#111"/>
<circle cx="425.3" cy="297.9" r="0.6" fill="#111"/>
<circle cx="426.2" cy="298.8" r="0.6" fill="#111"/>
<circle cx="418.0" cy="298.7" r="0.6" fill="#111"/>
<circle cx="423.4" cy="299.4" r="0.6" fill="#111"/>
<circle cx="418.1" cy="299.9" r="0.6" fill="#111"/>
<circle cx="420.0" cy="299.0" r="0.6" fill="#111"/>
<circle cx="428.7" cy="296.7" r="0.6" fill="#111"/>
<circle cx="431.2" cy="298.4" r="0.6" fill="#111"/>
<circle cx="433.3" cy="299.7" r="0.6" fill="#111"/>
<circle cx="421.7" cy="297.9" r="0.6" fill="#111"/>
<circle cx="445.2" cy="300.0" r="0.6" fill="#111"/>
<circle cx="430.7" cy="300.5" r="0.6" fill="#111"/>
<circle cx="418.1" cy="300.2" r="0.6" fill="#111"/>
<circle cx="430.1" cy="296.4" r="0.6" fill="#111"/>
<circle cx="434.0" cy="299.1" r="0.6" fill="#111"/>
<circle cx="426.7" cy="298.1" r="0.6" fill="#111"/>
<circle cx="426.2" cy="300.0" r="0.6" fill="#111"/>
<circle cx="437.9" cy="296.8" r="0.6" fill="#111"/>
<circle cx="428.6" cy="300.3" r="0.6" fill="#111"/>
<circle cx="432.5" cy="297.6" r="0.6" fill="#111"/>
<circle cx="420.0" cy="299.5" r="0.6" fill="#111"/>
<circle cx="422.5" cy="298.9" r="0.6" fill="#111"/>
<circle cx="418.5" cy="299.7" r="0.6" fill="#111"/>
<circle cx="430.1" cy="297.4" r="0.6" fill="#111"/>
<circle cx="430.1" cy="298.2" r="0.6" fill="#111"/>
<circle cx="418.0" cy="297.4" r="0.6" fill="#111"/>
<circle cx="436.6" cy="298.8" r="0.6" fill="#111"/>
<circle cx="427.1" cy="297.3" r="0.6" fill="#111"/>
<circle cx="431.2" cy="300.7" r="0.6" fill="#111"/>
<circle cx="420.3" cy="299.7" r="0.6" fill="#111"/>
<circle cx="418.3" cy="298.6" r="0.6" fill="#111"/>
<circle cx="419.6" cy="300.9" r="0.6" fill="#111"/>
<circle cx="434.3" cy="300.3" r="0.6" fill="#111"/>
<circle cx="423.0" cy="298.6" r="0.6" fill="#111"/>
<circle cx="425.4" cy="297.9" r="0.6" fill="#111"/>
<circle cx="429.7" cy="296.8" r="0.6" fill="#111"/>
<circle cx="430.6" cy="299.4" r="0.6" fill="#111"/>
<circle cx="420.4" cy="299.1" r="0.6" fill="#111"/>
<circle cx="434.4" cy="298.2" r="0.6" fill="#111"/>
<circle cx="418.0" cy="300.4" r="0.6" fill="#111"/>
<circle cx="418.2" cy="298.6" r="0.6" fill="#111"/>
<circle cx="432.4" cy="300.7" r="0.6" fill="#111"/>
<circle cx="431.8" cy="298.4" r="0.6" fill="#111"/>
<circle cx="425.0" cy="300.3" r="0.6" fill="#111"/>
<circle cx="425.1" cy="300.8" r="0.6" fill="#111"/>
<circle cx="419.5" cy="300.7" r="0.6" fill="#111"/>
<circle cx="444.9" cy="299.0" r="0.6" fill="#111"/>
<circle cx="424.9" cy="298.7" r="0.6" fill="#111"/>
<circle cx="437.6" cy="300.2" r="0.6" fill="#111"/>
<circle cx="420.6" cy="298.5" r="0.6" fill="#111"/>
<circle cx="419.7" cy="299.6" r="0.6" fill="#111"/>
<circle cx="428.6" cy="298.5" r="0.6" fill="#111"/>
<circle cx="418.8" cy="295.6" r="0.6" fill="#111"/>
<circle cx="418.7" cy="298.3" r="0.6" fill="#111"/>
<circle cx="437.6" cy="296.1" r="0.6" fill="#111"/>
<circle cx="432.9" cy="298.7" r="0.6" fill="#111"/>
<circle cx="420.0" cy="300.0" r="0.6" fill="#111"/>
<circle cx="418.0" cy="297.9" r="0.6" fill="#111"/>
<circle cx="418.0" cy="297.4" r="0.6" fill="#111"/>
<circle cx="421.2" cy="298.9" r="0.6" fill="#111"/>
<circle cx="418.8" cy="298.2" r="0.6" fill="#111"/>
<circle cx="438.5" cy="299.7" r="0.6" fill="#111"/>
<circle cx="418.0" cy="298.8" r="0.6" fill="#111"/>
<circle cx="418.6" cy="296.3" r="0.6" fill="#111"/>
<circle cx="442.4" cy="298.2" r="0.6" fill="#111"/>
<circle cx="421.0" cy="296.1" r="0.6" fill="#111"/>
<circle cx="422.7" cy="295.1" r="0.6" fill="#111"/>
<circle cx="428.8" cy="301.8" r="0.6" fill="#111"/>
<circle cx="422.5" cy="297.9" r="0.6" fill="#111"/>
<circle cx="418.1" cy="299.3" r="0.6" fill="#111"/>
<circle cx="418.5" cy="299.3" r="0.6" fill="#111"/>
<circle cx="442.8" cy="297.9" r="0.6" fill="#111"/>
<circle cx="420.3" cy="298.6" r="0.6" fill="#111"/>
<circle cx="419.4" cy="300.3" r="0.6" fill="#111"/>
<circle cx="422.8" cy="301.4" r="0.6" fill="#111"/>
<circle cx="437.2" cy="298.1" r="0.6" fill="#111"/>
<circle cx="430.2" cy="301.4" r="0.6" fill="#111"/>
<circle cx="427.5" cy="297.2" r="0.6" fill="#111"/>
<circle cx="433.5" cy="300.8" r="0.6" fill="#111"/>
<circle cx="424.7" cy="299.4" r="0.6" fill="#111"/>
<circle cx="434.8" cy="298.1" r="0.6" fill="#111"/>
<circle cx="418.1" cy="298.0" r="0.6" fill="#111"/>
<circle cx="442.4" cy="299.8" r="0.6" fill="#111"/>
<circle cx="422.1" cy="299.9" r="0.6" fill="#111"/>
<circle cx="421.2" cy="298.6" r="0.6" fill="#111"/>
<circle cx="420.5" cy="295.3" r="0.6" fill="#111"/>
<circle cx="431.1" cy="298.3" r="0.6" fill="#111"/>
<circle cx="423.2" cy="300.4" r="0.6" fill="#111"/>
<circle cx="419.1" cy="299.3" r="0.6" fill="#111"/>
<circle cx="441.4" cy="299.6" r="0.6" fill="#111"/>
<circle cx="426.0" cy="299.3" r="0.6" fill="#111"/>
<circle cx="445.8" cy="301.6" r="0.6" fill="#111"/>
<circle cx="424.7" cy="299.3" r="0.6" fill="#111"/>
<circle cx="418.4" cy="299.5" r="0.6" fill="#111"/>
<circle cx="422.1" cy="299.6" r="0.6" fill="#111"/>
<circle cx="420.4" cy="299.3" r="0.6" fill="#111"/>
<circle cx="428.2" cy="300.4" r="0.6" fill="#111"/>
<circle cx="423.7" cy="297.4" r="0.6" fill="#111"/>
<circle cx="423.7" cy="297.6" r="0.6" fill="#111"/>
<circle cx="422.0" cy="298.6" r="0.6" fill="#111"/>
<circle cx="418.2" cy="298.2" r="0.6" fill="#111"/>
<circle cx="418.1" cy="304.2" r="0.55" fill="#111"/>
<circle cx="419.7" cy="295.5" r="0.55" fill="#111"/>
<circle cx="418.4" cy="295.3" r="0.55" fill="#111"/>
<circle cx="418.6" cy="298.5" r="0.55" fill="#111"/>
<circle cx="419.4" cy="300.7" r="0.55" fill="#111"/>
<circle cx="423.5" cy="301.1" r="0.55" fill="#111"/>
<circle cx="418.0" cy="294.9" r="0.55" fill="#111"/>
<circle cx="418.0" cy="297.3" r="0.55" fill="#111"/>
<circle cx="419.6" cy="294.0" r="0.55" fill="#111"/>
<circle cx="420.3" cy="300.7" r="0.55" fill="#111"/>
<circle cx="423.2" cy="298.5" r="0.55" fill="#111"/>
<circle cx="422.2" cy="302.1" r="0.55" fill="#111"/>
<circle cx="418.5" cy="293.9" r="0.55" fill="#111"/>
<circle cx="418.1" cy="300.0" r="0.55" fill="#111"/>
<circle cx="421.0" cy="300.7" r="0.55" fill="#111"/>
<circle cx="423.4" cy="297.9" r="0.55" fill="#111"/>
<circle cx="421.7" cy="295.4" r="0.55" fill="#111"/>
<circle cx="419.5" cy="297.9" r="0.55" fill="#111"/>
<circle cx="421.9" cy="298.3" r="0.55" fill="#111"/>
<circle cx="418.4" cy="301.3" r="0.55" fill="#111"/>
<circle cx="418.7" cy="297.0" r="0.55" fill="#111"/>
<circle cx="418.1" cy="298.5" r="0.55" fill="#111"/>
<circle cx="421.1" cy="301.6" r="0.55" fill="#111"/>
<circle cx="418.1" cy="300.9" r="0.55" fill="#111"/>
<circle cx="420.3" cy="299.6" r="0.55" fill="#111"/>
<circle cx="442.9" cy="298.6" r="0.5" fill="#111"/>
<circle cx="440.0" cy="299.7" r="0.5" fill="#111"/>
<circle cx="441.8" cy="295.9" r="0.5" fill="#111"/>
<circle cx="447.3" cy="299.0" r="0.5" fill="#111"/>
<circle cx="452.8" cy="297.7" r="0.5" fill="#111"/>
<circle cx="441.3" cy="298.5" r="0.5" fill="#111"/>
<defs><linearGradient id="tail" x1="0" x2="1"><stop offset="0" stop-color="#555" stop-opacity="0.9"/><stop offset="0.6" stop-color="#777" stop-opacity="0.75"/><stop offset="0.9" stop-color="#999" stop-opacity="0.45"/><stop offset="1" stop-color="#bbb" stop-opacity="0"/></linearGradient></defs>
<path d="M331,349.6 C340,350.4 352,351 362,352.4 C366,353.4 366,356.4 362,357.4 C352,358.8 340,359.4 331,360.2 Z" fill="url(#tail)" stroke="#555" stroke-width="0.4" stroke-opacity="0.6"/>
<line x1="337" y1="354.9" x2="357" y2="354.9" stroke="#f4f4f4" stroke-width="1.1"/>
<circle cx="327.9" cy="354.6" r="6.6" fill="#1a1a1a"/><circle cx="327.9" cy="354.6" r="4.6" fill="#555"/><circle cx="327.9" cy="354.6" r="3.4" fill="none" stroke="#ccc" stroke-width="0.6"/><circle cx="327.9" cy="354.6" r="1.7" fill="#bbb"/><circle cx="327.9" cy="354.6" r="0.8" fill="#fff"/>
<circle cx="366.0" cy="354.0" r="0.4" fill="#111"/>
<circle cx="340.0" cy="351.9" r="0.4" fill="#111"/>
<circle cx="348.0" cy="353.2" r="0.4" fill="#111"/>
<circle cx="342.4" cy="351.6" r="0.4" fill="#111"/>
<circle cx="353.5" cy="357.2" r="0.4" fill="#111"/>
<circle cx="340.1" cy="353.7" r="0.4" fill="#111"/>
<circle cx="344.0" cy="350.1" r="0.4" fill="#111"/>
<circle cx="341.5" cy="357.5" r="0.4" fill="#111"/>
<circle cx="358.6" cy="354.6" r="0.4" fill="#111"/>
<circle cx="341.6" cy="350.6" r="0.4" fill="#111"/>
<circle cx="366.5" cy="352.4" r="0.4" fill="#111"/>
<circle cx="342.0" cy="361.1" r="0.4" fill="#111"/>
<circle cx="341.9" cy="355.1" r="0.4" fill="#111"/>
<circle cx="365.6" cy="351.9" r="0.4" fill="#111"/>
<circle cx="347.9" cy="355.9" r="0.4" fill="#111"/>
<circle cx="345.8" cy="357.3" r="0.4" fill="#111"/>
<rect x="411" y="350" width="44" height="8.8" rx="4" fill="#8a8a8a" opacity="0.8" stroke="#444" stroke-width="0.4"/>
<line x1="416" y1="354.4" x2="450" y2="354.4" stroke="#eee" stroke-width="1.1"/>
<ellipse cx="409.3" cy="354" rx="5.4" ry="6.2" fill="#1a1a1a"/><ellipse cx="409.3" cy="354" rx="3.4" ry="4" fill="#666"/><ellipse cx="409.3" cy="354" rx="2.2" ry="2.7" fill="none" stroke="#ccc" stroke-width="0.5"/><circle cx="409.3" cy="354" r="0.9" fill="#ddd"/>
<circle cx="444.6" cy="349.6" r="0.55" fill="#111"/>
<circle cx="433.7" cy="349.1" r="0.55" fill="#111"/>
<circle cx="426.5" cy="349.6" r="0.55" fill="#111"/>
<circle cx="420.1" cy="349.1" r="0.55" fill="#111"/>
<circle cx="420.4" cy="348.0" r="0.55" fill="#111"/>
<circle cx="453.3" cy="350.1" r="0.55" fill="#111"/>
<circle cx="447.3" cy="350.8" r="0.55" fill="#111"/>
<circle cx="431.2" cy="349.2" r="0.55" fill="#111"/>
<circle cx="425.4" cy="350.3" r="0.55" fill="#111"/>
<circle cx="419.3" cy="348.7" r="0.55" fill="#111"/>
<circle cx="444.6" cy="348.7" r="0.55" fill="#111"/>
<circle cx="431.3" cy="349.7" r="0.55" fill="#111"/>
<circle cx="424.8" cy="349.8" r="0.55" fill="#111"/>
<circle cx="432.1" cy="349.2" r="0.55" fill="#111"/>
<circle cx="456.2" cy="350.5" r="0.55" fill="#111"/>
<circle cx="426.3" cy="350.5" r="0.55" fill="#111"/>
<circle cx="432.3" cy="349.8" r="0.55" fill="#111"/>
<circle cx="435.3" cy="348.0" r="0.55" fill="#111"/>
<circle cx="420.0" cy="348.5" r="0.55" fill="#111"/>
<circle cx="454.8" cy="349.3" r="0.55" fill="#111"/>
<circle cx="425.7" cy="348.2" r="0.55" fill="#111"/>
<circle cx="419.2" cy="350.3" r="0.55" fill="#111"/>
<circle cx="434.4" cy="349.7" r="0.55" fill="#111"/>
<circle cx="419.6" cy="348.1" r="0.55" fill="#111"/>
<circle cx="419.4" cy="350.7" r="0.55" fill="#111"/>
<circle cx="428.3" cy="349.8" r="0.55" fill="#111"/>
<circle cx="447.9" cy="349.7" r="0.55" fill="#111"/>
<circle cx="428.9" cy="348.8" r="0.55" fill="#111"/>
<circle cx="456.3" cy="348.8" r="0.55" fill="#111"/>
<circle cx="446.7" cy="348.8" r="0.55" fill="#111"/>
<circle cx="430.7" cy="349.2" r="0.55" fill="#111"/>
<circle cx="448.2" cy="349.3" r="0.55" fill="#111"/>
<circle cx="454.7" cy="348.1" r="0.55" fill="#111"/>
<circle cx="419.0" cy="347.9" r="0.55" fill="#111"/>
<circle cx="427.4" cy="347.5" r="0.55" fill="#111"/>
<circle cx="456.2" cy="349.5" r="0.55" fill="#111"/>
<circle cx="433.5" cy="349.2" r="0.55" fill="#111"/>
<circle cx="437.7" cy="349.9" r="0.55" fill="#111"/>
<circle cx="455.1" cy="349.7" r="0.55" fill="#111"/>
<circle cx="447.5" cy="350.4" r="0.55" fill="#111"/>
<circle cx="450.9" cy="349.3" r="0.55" fill="#111"/>
<circle cx="431.1" cy="348.3" r="0.55" fill="#111"/>
<circle cx="430.8" cy="359.2" r="0.55" fill="#111"/>
<circle cx="421.2" cy="360.9" r="0.55" fill="#111"/>
<circle cx="425.9" cy="360.0" r="0.55" fill="#111"/>
<circle cx="420.6" cy="359.5" r="0.55" fill="#111"/>
<circle cx="419.4" cy="359.4" r="0.55" fill="#111"/>
<circle cx="457.2" cy="359.8" r="0.55" fill="#111"/>
<circle cx="453.3" cy="360.5" r="0.55" fill="#111"/>
<circle cx="421.4" cy="360.0" r="0.55" fill="#111"/>
<circle cx="421.9" cy="358.9" r="0.55" fill="#111"/>
<circle cx="435.9" cy="360.0" r="0.55" fill="#111"/>
<circle cx="427.4" cy="359.2" r="0.55" fill="#111"/>
<circle cx="445.0" cy="360.5" r="0.55" fill="#111"/>
<circle cx="447.9" cy="360.6" r="0.55" fill="#111"/>
<circle cx="422.8" cy="359.2" r="0.55" fill="#111"/>
<circle cx="451.6" cy="359.8" r="0.55" fill="#111"/>
<circle cx="432.9" cy="360.9" r="0.55" fill="#111"/>
<circle cx="447.5" cy="360.2" r="0.55" fill="#111"/>
<circle cx="427.8" cy="360.5" r="0.55" fill="#111"/>
<circle cx="424.1" cy="360.7" r="0.55" fill="#111"/>
<circle cx="431.1" cy="359.4" r="0.55" fill="#111"/>
<circle cx="433.8" cy="360.8" r="0.55" fill="#111"/>
<circle cx="427.3" cy="360.0" r="0.55" fill="#111"/>
<circle cx="450.3" cy="358.8" r="0.55" fill="#111"/>
<circle cx="422.1" cy="358.2" r="0.55" fill="#111"/>
<circle cx="437.0" cy="360.6" r="0.55" fill="#111"/>
<circle cx="454.6" cy="358.8" r="0.55" fill="#111"/>
<circle cx="419.6" cy="359.9" r="0.55" fill="#111"/>
<circle cx="425.6" cy="360.3" r="0.55" fill="#111"/>
<circle cx="456.9" cy="358.6" r="0.55" fill="#111"/>
<circle cx="432.9" cy="359.2" r="0.55" fill="#111"/>
<circle cx="452.6" cy="359.5" r="0.55" fill="#111"/>
<circle cx="449.1" cy="360.2" r="0.55" fill="#111"/>
<circle cx="455.8" cy="360.7" r="0.55" fill="#111"/>
<circle cx="442.8" cy="360.6" r="0.55" fill="#111"/>
<circle cx="456.4" cy="357.4" r="0.6" fill="#111"/>
<circle cx="456.9" cy="356.1" r="0.6" fill="#111"/>
<circle cx="455.9" cy="358.7" r="0.6" fill="#111"/>
<circle cx="455.1" cy="352.6" r="0.6" fill="#111"/>
<circle cx="458.0" cy="354.6" r="0.6" fill="#111"/>
<circle cx="455.4" cy="352.6" r="0.6" fill="#111"/>
<circle cx="455.4" cy="356.4" r="0.6" fill="#111"/>
<circle cx="456.8" cy="350.5" r="0.6" fill="#111"/>
<circle cx="456.9" cy="355.0" r="0.6" fill="#111"/>
<circle cx="453.8" cy="356.9" r="0.6" fill="#111"/>
<circle cx="455.4" cy="353.3" r="0.6" fill="#111"/>
<circle cx="457.8" cy="358.6" r="0.6" fill="#111"/>
<circle cx="454.5" cy="355.8" r="0.6" fill="#111"/>
<circle cx="454.1" cy="361.8" r="0.6" fill="#111"/>
<circle cx="454.9" cy="358.2" r="0.6" fill="#111"/>
<circle cx="454.6" cy="357.0" r="0.6" fill="#111"/>
<circle cx="460.9" cy="346.3" r="0.6" fill="#111"/>
<circle cx="455.0" cy="356.0" r="0.6" fill="#111"/>
<circle cx="455.8" cy="352.3" r="0.6" fill="#111"/>
<circle cx="460.7" cy="354.7" r="0.6" fill="#111"/>
<circle cx="452.4" cy="357.1" r="0.6" fill="#111"/>
<circle cx="452.2" cy="358.1" r="0.6" fill="#111"/>
<circle cx="454.7" cy="354.9" r="0.6" fill="#111"/>
<circle cx="458.8" cy="354.8" r="0.6" fill="#111"/>
<circle cx="452.9" cy="349.0" r="0.6" fill="#111"/>
<circle cx="458.6" cy="356.8" r="0.6" fill="#111"/>
<circle cx="454.2" cy="357.2" r="0.6" fill="#111"/>
<circle cx="457.1" cy="356.5" r="0.6" fill="#111"/>
<circle cx="451.0" cy="353.4" r="0.6" fill="#111"/>
<circle cx="458.0" cy="356.7" r="0.6" fill="#111"/>
<circle cx="457.9" cy="346.5" r="0.6" fill="#111"/>
<circle cx="456.4" cy="356.0" r="0.6" fill="#111"/>
<circle cx="461.6" cy="351.3" r="0.6" fill="#111"/>
<circle cx="455.3" cy="354.5" r="0.6" fill="#111"/>
<text x="473.3" y="236.8" font-size="10" text-anchor="start" fill="#000">Day 7</text>
<text x="473.3" y="296.7" font-size="10" text-anchor="start" fill="#000">Day 14</text>
<text x="473.3" y="356.2" font-size="10" text-anchor="start" fill="#000">Day 21</text>
<line x1="299.6" y1="210" x2="299.6" y2="371.6" stroke="#111" stroke-width="0.9"/>
<polygon points="299.6,205.6 297,211 302.2,211" fill="#111"/>
<line x1="306.5" y1="386.4" x2="465" y2="386.4" stroke="#111" stroke-width="0.9"/>
<polygon points="469.6,386.4 464,383.8 464,389" fill="#111"/>
<text x="0" y="0" font-size="10.4" text-anchor="middle" fill="#000" transform="translate(292.1 286.8) rotate(-90) scale(0.94 1)">FSC-W</text>
<text x="387.1" y="398" font-size="9.8" text-anchor="middle" fill="#000">MHC-II</text>
<text x="126.7" y="212" font-size="12.8" font-weight="bold" stroke="#000" stroke-width="0.35" text-anchor="middle" fill="#000">MHC-II</text>
<line x1="50" y1="224.2" x2="50" y2="358.6" stroke="#000" stroke-width="1.2"/>
<line x1="46" y1="358.0" x2="50" y2="358.0" stroke="#000" stroke-width="1.2"/>
<text x="43.2" y="361.5" font-size="9.5" font-weight="bold" stroke="#000" stroke-width="0.35" text-anchor="end" fill="#000">0</text>
<line x1="46" y1="338.85" x2="50" y2="338.85" stroke="#000" stroke-width="1.2"/>
<text x="43.2" y="342.35" font-size="9.5" font-weight="bold" stroke="#000" stroke-width="0.35" text-anchor="end" fill="#000">10</text>
<line x1="46" y1="319.7" x2="50" y2="319.7" stroke="#000" stroke-width="1.2"/>
<text x="43.2" y="323.2" font-size="9.5" font-weight="bold" stroke="#000" stroke-width="0.35" text-anchor="end" fill="#000">20</text>
<line x1="46" y1="300.55" x2="50" y2="300.55" stroke="#000" stroke-width="1.2"/>
<text x="43.2" y="304.05" font-size="9.5" font-weight="bold" stroke="#000" stroke-width="0.35" text-anchor="end" fill="#000">30</text>
<line x1="46" y1="281.4" x2="50" y2="281.4" stroke="#000" stroke-width="1.2"/>
<text x="43.2" y="284.9" font-size="9.5" font-weight="bold" stroke="#000" stroke-width="0.35" text-anchor="end" fill="#000">40</text>
<line x1="46" y1="262.25" x2="50" y2="262.25" stroke="#000" stroke-width="1.2"/>
<text x="43.2" y="265.75" font-size="9.5" font-weight="bold" stroke="#000" stroke-width="0.35" text-anchor="end" fill="#000">50</text>
<line x1="46" y1="243.1" x2="50" y2="243.1" stroke="#000" stroke-width="1.2"/>
<text x="43.2" y="246.6" font-size="9.5" font-weight="bold" stroke="#000" stroke-width="0.35" text-anchor="end" fill="#000">60</text>
<line x1="46" y1="223.95" x2="50" y2="223.95" stroke="#000" stroke-width="1.2"/>
<text x="43.2" y="227.45" font-size="9.5" font-weight="bold" stroke="#000" stroke-width="0.35" text-anchor="end" fill="#000">70</text>
<text x="13.5" y="288" font-size="9.5" font-weight="bold" stroke="#000" stroke-width="0.35" text-anchor="start" fill="#000">%</text>
<rect x="57.5" y="355.0" width="12.0" height="3.0" fill="#838fcc" stroke="#3c4ba4" stroke-width="1.1"/>
<rect x="77" y="350.8" width="12.5" height="7.2" fill="#f48b7f" stroke="#de2c24" stroke-width="1.1"/>
<rect x="110.5" y="341.2" width="12.5" height="16.8" fill="#838fcc" stroke="#3c4ba4" stroke-width="1.1"/>
<rect x="130.5" y="344.2" width="12.5" height="13.8" fill="#f48b7f" stroke="#de2c24" stroke-width="1.1"/>
<rect x="164.4" y="297.8" width="12.199999999999989" height="60.2" fill="#838fcc" stroke="#3c4ba4" stroke-width="1.1"/>
<rect x="184.3" y="291.6" width="12.399999999999977" height="66.4" fill="#f48b7f" stroke="#de2c24" stroke-width="1.1"/>
<line x1="49.4" y1="358" x2="203.2" y2="358" stroke="#000" stroke-width="1.2"/>
<line x1="73" y1="358" x2="73" y2="362.2" stroke="#000" stroke-width="1.5"/>
<line x1="126.4" y1="358" x2="126.4" y2="362.2" stroke="#000" stroke-width="1.5"/>
<line x1="180.1" y1="358" x2="180.1" y2="362.2" stroke="#000" stroke-width="1.5"/>
<line x1="63.5" y1="356.5" x2="63.5" y2="353.4" stroke="#000" stroke-width="0.8"/>
<line x1="60.7" y1="353.4" x2="66.3" y2="353.4" stroke="#000" stroke-width="0.8"/>
<line x1="60.7" y1="356.5" x2="66.3" y2="356.5" stroke="#000" stroke-width="0.8"/>
<line x1="83.2" y1="355" x2="83.2" y2="346" stroke="#000" stroke-width="0.8"/>
<line x1="80.2" y1="346" x2="86.2" y2="346" stroke="#000" stroke-width="0.8"/>
<line x1="80.2" y1="355" x2="86.2" y2="355" stroke="#000" stroke-width="0.8"/>
<line x1="116.7" y1="357" x2="116.7" y2="323" stroke="#000" stroke-width="0.8"/>
<line x1="113.3" y1="323" x2="120.10000000000001" y2="323" stroke="#000" stroke-width="0.8"/>
<line x1="113.3" y1="357" x2="120.10000000000001" y2="357" stroke="#000" stroke-width="0.8"/>
<line x1="136.8" y1="351.5" x2="136.8" y2="337" stroke="#000" stroke-width="0.8"/>
<line x1="133.4" y1="337" x2="140.20000000000002" y2="337" stroke="#000" stroke-width="0.8"/>
<line x1="133.4" y1="351.5" x2="140.20000000000002" y2="351.5" stroke="#000" stroke-width="0.8"/>
<line x1="170.2" y1="332.5" x2="170.2" y2="261.6" stroke="#000" stroke-width="0.8"/>
<line x1="166.39999999999998" y1="261.6" x2="174.0" y2="261.6" stroke="#000" stroke-width="0.8"/>
<line x1="166.39999999999998" y1="332.5" x2="174.0" y2="332.5" stroke="#000" stroke-width="0.8"/>
<line x1="190.4" y1="327.9" x2="190.4" y2="252" stroke="#000" stroke-width="0.8"/>
<line x1="186.6" y1="252" x2="194.20000000000002" y2="252" stroke="#000" stroke-width="0.8"/>
<line x1="186.6" y1="327.9" x2="194.20000000000002" y2="327.9" stroke="#000" stroke-width="0.8"/>
<circle cx="58.0" cy="355.6" r="2.05" fill="#000"/>
<circle cx="60.6" cy="352.7" r="2.05" fill="#000"/>
<circle cx="62.5" cy="356.0" r="2.05" fill="#000"/>
<circle cx="64.4" cy="353.5" r="2.05" fill="#000"/>
<circle cx="67.7" cy="355.6" r="2.05" fill="#000"/>
<circle cx="83.0" cy="344.2" r="2.05" fill="#000"/>
<circle cx="78.5" cy="349.4" r="2.05" fill="#000"/>
<circle cx="78.5" cy="352.2" r="2.05" fill="#000"/>
<circle cx="86.5" cy="351.3" r="2.05" fill="#000"/>
<circle cx="84.2" cy="352.4" r="2.05" fill="#000"/>
<circle cx="116.3" cy="318.8" r="2.05" fill="#000"/>
<circle cx="116.3" cy="324.5" r="2.05" fill="#000"/>
<circle cx="112.0" cy="352.5" r="2.05" fill="#000"/>
<circle cx="121.0" cy="353.8" r="2.05" fill="#000"/>
<circle cx="112.3" cy="356.3" r="2.05" fill="#000"/>
<circle cx="132.3" cy="337.0" r="2.05" fill="#000"/>
<circle cx="132.3" cy="341.2" r="2.05" fill="#000"/>
<circle cx="142.0" cy="339.8" r="2.05" fill="#000"/>
<circle cx="137.1" cy="347.0" r="2.05" fill="#000"/>
<circle cx="137.1" cy="351.3" r="2.05" fill="#000"/>
<circle cx="170.2" cy="243.8" r="2.05" fill="#000"/>
<circle cx="170.2" cy="265.2" r="2.05" fill="#000"/>
<circle cx="170.2" cy="280.0" r="2.05" fill="#000"/>
<circle cx="170.2" cy="285.7" r="2.05" fill="#000"/>
<circle cx="170.2" cy="300.5" r="2.05" fill="#000"/>
<circle cx="170.2" cy="325.3" r="2.05" fill="#000"/>
<circle cx="166.3" cy="339.5" r="2.05" fill="#000"/>
<circle cx="174.5" cy="338.5" r="2.05" fill="#000"/>
<circle cx="190.4" cy="237.8" r="2.05" fill="#000"/>
<circle cx="190.4" cy="256.0" r="2.05" fill="#000"/>
<circle cx="190.4" cy="260.9" r="2.05" fill="#000"/>
<circle cx="190.4" cy="286.7" r="2.05" fill="#000"/>
<circle cx="185.6" cy="299.2" r="2.05" fill="#000"/>
<circle cx="195.0" cy="297.1" r="2.05" fill="#000"/>
<circle cx="190.4" cy="339.1" r="2.05" fill="#000"/>
<circle cx="190.4" cy="345.0" r="2.05" fill="#000"/>
<text x="74.6" y="370.3" font-size="9" font-weight="bold" stroke="#000" stroke-width="0.35" text-anchor="end" fill="#000" transform="rotate(-45 74.6 370.3)">7</text>
<text x="128.2" y="370.3" font-size="9" font-weight="bold" stroke="#000" stroke-width="0.35" text-anchor="end" fill="#000" transform="rotate(-45 128.2 370.3)">14</text>
<text x="181.7" y="370.3" font-size="9" font-weight="bold" stroke="#000" stroke-width="0.35" text-anchor="end" fill="#000" transform="rotate(-45 181.7 370.3)">21</text>
<text x="128" y="393.2" font-size="10.6" font-weight="bold" stroke="#000" stroke-width="0.35" text-anchor="middle" fill="#000">Days elapsed</text>
<text x="221.7" y="279" font-size="10.8" font-weight="bold" stroke="#2a3f9a" stroke-width="0.35" text-anchor="start" fill="#2a3f9a">PBS</text>
<text x="221.7" y="295.4" font-size="10.8" font-weight="bold" stroke="#e0141e" stroke-width="0.35" text-anchor="start" fill="#e0141e">BCG</text>
<text x="139" y="427.7" font-size="12.8" font-weight="bold" stroke="#000" stroke-width="0.35" text-anchor="middle" fill="#000">MHC-II</text>
<line x1="58" y1="440.9" x2="58" y2="578.4" stroke="#000" stroke-width="1.2"/>
<line x1="53.5" y1="577.8" x2="58" y2="577.8" stroke="#000" stroke-width="1.2"/>
<text x="51.5" y="581.3" font-size="10" font-weight="bold" stroke="#000" stroke-width="0.35" text-anchor="end" fill="#000">0</text>
<line x1="53.5" y1="550.5" x2="58" y2="550.5" stroke="#000" stroke-width="1.2"/>
<text x="51.5" y="554.0" font-size="10" font-weight="bold" stroke="#000" stroke-width="0.35" text-anchor="end" fill="#000">20</text>
<line x1="53.5" y1="523.1999999999999" x2="58" y2="523.1999999999999" stroke="#000" stroke-width="1.2"/>
<text x="51.5" y="526.6999999999999" font-size="10" font-weight="bold" stroke="#000" stroke-width="0.35" text-anchor="end" fill="#000">40</text>
<line x1="53.5" y1="495.9" x2="58" y2="495.9" stroke="#000" stroke-width="1.2"/>
<text x="51.5" y="499.4" font-size="10" font-weight="bold" stroke="#000" stroke-width="0.35" text-anchor="end" fill="#000">60</text>
<line x1="53.5" y1="468.59999999999997" x2="58" y2="468.59999999999997" stroke="#000" stroke-width="1.2"/>
<text x="51.5" y="472.09999999999997" font-size="10" font-weight="bold" stroke="#000" stroke-width="0.35" text-anchor="end" fill="#000">80</text>
<line x1="53.5" y1="441.29999999999995" x2="58" y2="441.29999999999995" stroke="#000" stroke-width="1.2"/>
<text x="51.5" y="444.79999999999995" font-size="10" font-weight="bold" stroke="#000" stroke-width="0.35" text-anchor="end" fill="#000">100</text>
<text x="20.5" y="513.6" font-size="9.8" font-weight="bold" stroke="#000" stroke-width="0.35" text-anchor="start" fill="#000">%</text>
<rect x="63.4" y="554.6" width="8.399999999999999" height="23.2" fill="#7490d6" stroke="#3350a6" stroke-width="1.5"/>
<rect x="77.6" y="525.9" width="8.400000000000006" height="51.9" fill="#f58272" stroke="#e6201c" stroke-width="1.5"/>
<rect x="91.7" y="571.4" width="8.399999999999991" height="6.4" fill="#8fe08f" stroke="#2f9a3c" stroke-width="1.5"/>
<rect x="105.9" y="551.5" width="8.399999999999991" height="26.3" fill="#c9a3dc" stroke="#8c4aa8" stroke-width="1.5"/>
<rect x="120.0" y="572.7" width="8.400000000000006" height="5.1" fill="#f9c27e" stroke="#f08c1e" stroke-width="1.5"/>
<rect x="134.2" y="573.4" width="8.400000000000006" height="4.4" fill="#8a8a8a" stroke="#1a1a1a" stroke-width="1.5"/>
<rect x="148.4" y="480.2" width="8.400000000000006" height="97.6" fill="#cdab78" stroke="#a87832" stroke-width="1.5"/>
<rect x="162.5" y="577.1" width="8.400000000000006" height="0.7" fill="#334" stroke="#112" stroke-width="1.5"/>
<rect x="176.7" y="558.0" width="8.400000000000006" height="19.8" fill="#bb7db4" stroke="#8c3088" stroke-width="1.5"/>
<rect x="190.8" y="577.5" width="8.399999999999977" height="0.3" fill="#333" stroke="#111" stroke-width="1.5"/>
<rect x="205.0" y="515.0" width="8.400000000000006" height="62.8" fill="#7fba96" stroke="#1f7f50" stroke-width="1.5"/>
<line x1="57.4" y1="577.8" x2="219.6" y2="577.8" stroke="#000" stroke-width="1.2"/>
<line x1="67.6" y1="577.8" x2="67.6" y2="582.0" stroke="#000" stroke-width="1.5"/>
<line x1="67.6" y1="556.6424999999999" x2="67.6" y2="550.5" stroke="#000" stroke-width="0.8"/>
<line x1="65.0" y1="550.5" x2="70.19999999999999" y2="550.5" stroke="#000" stroke-width="0.8"/>
<line x1="65.0" y1="556.6424999999999" x2="70.19999999999999" y2="556.6424999999999" stroke="#000" stroke-width="0.8"/>
<circle cx="65.4" cy="556.6" r="2.0" fill="#000"/>
<circle cx="69.8" cy="555.3" r="2.0" fill="#000"/>
<circle cx="67.6" cy="550.5" r="2.0" fill="#000"/>
<text x="68.7" y="592.2" font-size="9.4" font-weight="bold" stroke="#000" stroke-width="0.35" text-anchor="end" fill="#000" transform="rotate(-45 68.7 592.2)">5637</text>
<line x1="81.75999999999999" y1="577.8" x2="81.75999999999999" y2="582.0" stroke="#000" stroke-width="1.5"/>
<line x1="81.75999999999999" y1="527.295" x2="81.75999999999999" y2="522.5174999999999" stroke="#000" stroke-width="0.8"/>
<line x1="79.16" y1="522.5174999999999" x2="84.35999999999999" y2="522.5174999999999" stroke="#000" stroke-width="0.8"/>
<line x1="79.16" y1="527.295" x2="84.35999999999999" y2="527.295" stroke="#000" stroke-width="0.8"/>
<circle cx="79.6" cy="527.3" r="2.0" fill="#000"/>
<circle cx="84.0" cy="525.9" r="2.0" fill="#000"/>
<circle cx="81.8" cy="522.5" r="2.0" fill="#000"/>
<text x="82.9" y="592.2" font-size="9.4" font-weight="bold" stroke="#000" stroke-width="0.35" text-anchor="end" fill="#000" transform="rotate(-45 82.9 592.2)">VMCUB3</text>
<line x1="95.91999999999999" y1="577.8" x2="95.91999999999999" y2="582.0" stroke="#000" stroke-width="1.5"/>
<circle cx="93.7" cy="572.1" r="2.0" fill="#000"/>
<circle cx="98.1" cy="571.4" r="2.0" fill="#000"/>
<circle cx="95.9" cy="570.7" r="2.0" fill="#000"/>
<text x="97.0" y="592.2" font-size="9.4" font-weight="bold" stroke="#000" stroke-width="0.35" text-anchor="end" fill="#000" transform="rotate(-45 97.0 592.2)">UMUC3</text>
<line x1="110.08" y1="577.8" x2="110.08" y2="582.0" stroke="#000" stroke-width="1.5"/>
<line x1="110.08" y1="552.5474999999999" x2="110.08" y2="549.4079999999999" stroke="#000" stroke-width="0.8"/>
<line x1="107.48" y1="549.4079999999999" x2="112.67999999999999" y2="549.4079999999999" stroke="#000" stroke-width="0.8"/>
<line x1="107.48" y1="552.5474999999999" x2="112.67999999999999" y2="552.5474999999999" stroke="#000" stroke-width="0.8"/>
<circle cx="107.9" cy="552.5" r="2.0" fill="#000"/>
<circle cx="112.3" cy="551.9" r="2.0" fill="#000"/>
<circle cx="110.1" cy="549.4" r="2.0" fill="#000"/>
<text x="111.2" y="592.2" font-size="9.4" font-weight="bold" stroke="#000" stroke-width="0.35" text-anchor="end" fill="#000" transform="rotate(-45 111.2 592.2)">MGHU3</text>
<line x1="124.24" y1="577.8" x2="124.24" y2="582.0" stroke="#000" stroke-width="1.5"/>
<circle cx="122.0" cy="573.4" r="2.0" fill="#000"/>
<circle cx="126.4" cy="572.6" r="2.0" fill="#000"/>
<circle cx="124.2" cy="572.1" r="2.0" fill="#000"/>
<text x="125.3" y="592.2" font-size="9.4" font-weight="bold" stroke="#000" stroke-width="0.35" text-anchor="end" fill="#000" transform="rotate(-45 125.3 592.2)">MGHU4</text>
<line x1="138.39999999999998" y1="577.8" x2="138.39999999999998" y2="582.0" stroke="#000" stroke-width="1.5"/>
<circle cx="136.2" cy="574.3" r="2.0" fill="#000"/>
<circle cx="140.6" cy="573.4" r="2.0" fill="#000"/>
<circle cx="138.4" cy="572.3" r="2.0" fill="#000"/>
<text x="139.5" y="592.2" font-size="9.4" font-weight="bold" stroke="#000" stroke-width="0.35" text-anchor="end" fill="#000" transform="rotate(-45 139.5 592.2)">253J-LAVAL</text>
<line x1="152.56" y1="577.8" x2="152.56" y2="582.0" stroke="#000" stroke-width="1.5"/>
<line x1="152.56" y1="482.93249999999995" x2="152.56" y2="472.01249999999993" stroke="#000" stroke-width="0.8"/>
<line x1="149.96" y1="472.01249999999993" x2="155.16" y2="472.01249999999993" stroke="#000" stroke-width="0.8"/>
<line x1="149.96" y1="482.93249999999995" x2="155.16" y2="482.93249999999995" stroke="#000" stroke-width="0.8"/>
<circle cx="150.4" cy="482.9" r="2.0" fill="#000"/>
<circle cx="154.8" cy="482.2" r="2.0" fill="#000"/>
<circle cx="152.6" cy="472.0" r="2.0" fill="#000"/>
<text x="153.7" y="592.2" font-size="9.4" font-weight="bold" stroke="#000" stroke-width="0.35" text-anchor="end" fill="#000" transform="rotate(-45 153.7 592.2)">UMUC6</text>
<line x1="166.72" y1="577.8" x2="166.72" y2="582.0" stroke="#000" stroke-width="1.5"/>
<circle cx="164.5" cy="577.4" r="2.0" fill="#000"/>
<circle cx="168.9" cy="577.1" r="2.0" fill="#000"/>
<circle cx="166.7" cy="576.8" r="2.0" fill="#000"/>
<text x="167.8" y="592.2" font-size="9.4" font-weight="bold" stroke="#000" stroke-width="0.35" text-anchor="end" fill="#000" transform="rotate(-45 167.8 592.2)">TCC-SUP</text>
<line x1="180.88" y1="577.8" x2="180.88" y2="582.0" stroke="#000" stroke-width="1.5"/>
<circle cx="178.7" cy="559.0" r="2.0" fill="#000"/>
<circle cx="183.1" cy="558.0" r="2.0" fill="#000"/>
<circle cx="180.9" cy="556.2" r="2.0" fill="#000"/>
<text x="182.0" y="592.2" font-size="9.4" font-weight="bold" stroke="#000" stroke-width="0.35" text-anchor="end" fill="#000" transform="rotate(-45 182.0 592.2)">SW1710</text>
<line x1="195.04" y1="577.8" x2="195.04" y2="582.0" stroke="#000" stroke-width="1.5"/>
<circle cx="192.8" cy="577.7" r="2.0" fill="#000"/>
<circle cx="197.2" cy="577.5" r="2.0" fill="#000"/>
<circle cx="195.0" cy="577.4" r="2.0" fill="#000"/>
<text x="196.1" y="592.2" font-size="9.4" font-weight="bold" stroke="#000" stroke-width="0.35" text-anchor="end" fill="#000" transform="rotate(-45 196.1 592.2)">T24</text>
<line x1="209.2" y1="577.8" x2="209.2" y2="582.0" stroke="#000" stroke-width="1.5"/>
<line x1="209.2" y1="540.2624999999999" x2="209.2" y2="489.07499999999993" stroke="#000" stroke-width="0.8"/>
<line x1="206.39999999999998" y1="489.07499999999993" x2="212.0" y2="489.07499999999993" stroke="#000" stroke-width="0.8"/>
<line x1="206.39999999999998" y1="540.2624999999999" x2="212.0" y2="540.2624999999999" stroke="#000" stroke-width="0.8"/>
<circle cx="209.2" cy="540.3" r="2.0" fill="#000"/>
<circle cx="209.2" cy="515.7" r="2.0" fill="#000"/>
<circle cx="209.2" cy="489.1" r="2.0" fill="#000"/>
<text x="210.3" y="592.2" font-size="9.4" font-weight="bold" stroke="#000" stroke-width="0.35" text-anchor="end" fill="#000" transform="rotate(-45 210.3 592.2)">J82</text>
<defs>
<filter id="fTL" x="0" y="0" width="100%" height="100%" color-interpolation-filters="sRGB"><feTurbulence type="fractalNoise" baseFrequency="0.35" numOctaves="2" seed="3"/><feColorMatrix type="matrix" values="0 0 0 1 0 0 0 0 1 0 0 0 0 1 0 0 0 0 0 1"/><feComponentTransfer><feFuncR type="table" tableValues="0.863 0.863 0.863 0.863 0.863 0.863 0.863 0.863 0.863 0.863 0.868 0.880 0.892 0.904 0.917 0.929 0.941 0.949 0.956 0.963 0.971 0.978 0.985 0.988 0.988 0.988 0.988 0.988 0.988 0.988 0.988 0.988 0.988"/><feFuncG type="table" tableValues="0.792 0.792 0.792 0.792 0.792 0.792 0.792 0.792 0.792 0.792 0.800 0.818 0.836 0.855 0.873 0.891 0.910 0.921 0.932 0.943 0.954 0.965 0.976 0.980 0.980 0.980 0.980 0.980 0.980 0.980 0.980 0.980 0.980"/><feFuncB type="table" tableValues="0.761 0.761 0.761 0.761 0.761 0.761 0.761 0.761 0.761 0.761 0.769 0.791 0.812 0.834 0.855 0.877 0.898 0.910 0.923 0.935 0.947 0.959 0.972 0.976 0.976 0.976 0.976 0.976 0.976 0.976 0.976 0.976 0.976"/></feComponentTransfer><feComposite in2="SourceGraphic" operator="in"/></filter>
<filter id="sTLa" x="0" y="0" width="100%" height="100%" color-interpolation-filters="sRGB"><feTurbulence type="fractalNoise" baseFrequency="0.11 0.8" numOctaves="2" seed="4"/><feColorMatrix type="matrix" values="0 0 0 0 0.659 0 0 0 0 0.502 0 0 0 0 0.439 0 0 0 -8 3.240"/><feComposite in2="SourceGraphic" operator="in"/></filter>
<filter id="sTLb" x="0" y="0" width="100%" height="100%" color-interpolation-filters="sRGB"><feTurbulence type="fractalNoise" baseFrequency="0.08 0.7" numOctaves="2" seed="9"/><feColorMatrix type="matrix" values="0 0 0 0 0.541 0 0 0 0 0.314 0 0 0 0 0.251 0 0 0 -8 3.640"/><feComposite in2="SourceGraphic" operator="in"/></filter>
<filter id="fTR" x="0" y="0" width="100%" height="100%" color-interpolation-filters="sRGB"><feTurbulence type="fractalNoise" baseFrequency="0.4" numOctaves="2" seed="11"/><feColorMatrix type="matrix" values="0 0 0 1 0 0 0 0 1 0 0 0 0 1 0 0 0 0 0 1"/><feComponentTransfer><feFuncR type="table" tableValues="0.863 0.863 0.863 0.863 0.863 0.863 0.863 0.863 0.863 0.863 0.867 0.878 0.889 0.900 0.911 0.922 0.933 0.942 0.950 0.959 0.968 0.976 0.985 0.988 0.988 0.988 0.988 0.988 0.988 0.988 0.988 0.988 0.988"/><feFuncG type="table" tableValues="0.769 0.769 0.769 0.769 0.769 0.769 0.769 0.769 0.769 0.769 0.776 0.794 0.813 0.831 0.850 0.868 0.886 0.900 0.914 0.929 0.943 0.957 0.971 0.976 0.976 0.976 0.976 0.976 0.976 0.976 0.976 0.976 0.976"/><feFuncB type="table" tableValues="0.729 0.729 0.729 0.729 0.729 0.729 0.729 0.729 0.729 0.729 0.738 0.759 0.779 0.800 0.821 0.842 0.863 0.880 0.897 0.914 0.931 0.949 0.966 0.973 0.973 0.973 0.973 0.973 0.973 0.973 0.973 0.973 0.973"/></feComponentTransfer><feComposite in2="SourceGraphic" operator="in"/></filter>
<filter id="sTR" x="0" y="0" width="100%" height="100%" color-interpolation-filters="sRGB"><feTurbulence type="fractalNoise" baseFrequency="0.55" numOctaves="2" seed="12"/><feColorMatrix type="matrix" values="0 0 0 0 0.525 0 0 0 0 0.275 0 0 0 0 0.196 0 0 0 -7 2.926"/><feComposite in2="SourceGraphic" operator="in"/></filter>
<filter id="sTRd" x="0" y="0" width="100%" height="100%" color-interpolation-filters="sRGB"><feTurbulence type="fractalNoise" baseFrequency="0.5" numOctaves="2" seed="17"/><feColorMatrix type="matrix" values="0 0 0 0 0.416 0 0 0 0 0.173 0 0 0 0 0.078 0 0 0 -7 3.640"/><feComposite in2="SourceGraphic" operator="in"/></filter>
<filter id="fBLbg" x="0" y="0" width="100%" height="100%" color-interpolation-filters="sRGB"><feTurbulence type="fractalNoise" baseFrequency="0.15 0.25" numOctaves="2" seed="5"/><feColorMatrix type="matrix" values="0 0 0 1 0 0 0 0 1 0 0 0 0 1 0 0 0 0 0 1"/><feComponentTransfer><feFuncR type="table" tableValues="0.847 0.847 0.847 0.847 0.847 0.847 0.847 0.847 0.847 0.847 0.853 0.867 0.881 0.895 0.909 0.923 0.937 0.945 0.952 0.959 0.967 0.974 0.981 0.984 0.984 0.984 0.984 0.984 0.984 0.984 0.984 0.984 0.984"/><feFuncG type="table" tableValues="0.737 0.737 0.737 0.737 0.737 0.737 0.737 0.737 0.737 0.737 0.747 0.772 0.798 0.823 0.848 0.873 0.898 0.910 0.921 0.933 0.945 0.956 0.968 0.973 0.973 0.973 0.973 0.973 0.973 0.973 0.973 0.973 0.973"/><feFuncB type="table" tableValues="0.690 0.690 0.690 0.690 0.690 0.690 0.690 0.690 0.690 0.690 0.702 0.732 0.762 0.792 0.822 0.852 0.882 0.896 0.909 0.923 0.936 0.950 0.963 0.969 0.969 0.969 0.969 0.969 0.969 0.969 0.969 0.969 0.969"/></feComponentTransfer><feComposite in2="SourceGraphic" operator="in"/></filter>
<filter id="fBLfo" x="0" y="0" width="100%" height="100%" color-interpolation-filters="sRGB"><feTurbulence type="fractalNoise" baseFrequency="0.55" numOctaves="2" seed="8"/><feColorMatrix type="matrix" values="0 0 0 1 0 0 0 0 1 0 0 0 0 1 0 0 0 0 0 1"/><feComponentTransfer><feFuncR type="table" tableValues="0.612 0.612 0.612 0.612 0.612 0.612 0.612 0.612 0.612 0.612 0.619 0.638 0.656 0.674 0.693 0.711 0.729 0.750 0.771 0.792 0.813 0.834 0.854 0.863 0.863 0.863 0.863 0.863 0.863 0.863 0.863 0.863 0.863"/><feFuncG type="table" tableValues="0.659 0.659 0.659 0.659 0.659 0.659 0.659 0.659 0.659 0.659 0.665 0.681 0.697 0.713 0.729 0.745 0.761 0.779 0.796 0.814 0.832 0.850 0.867 0.875 0.875 0.875 0.875 0.875 0.875 0.875 0.875 0.875 0.875"/><feFuncB type="table" tableValues="0.808 0.808 0.808 0.808 0.808 0.808 0.808 0.808 0.808 0.808 0.812 0.821 0.830 0.839 0.848 0.857 0.867 0.877 0.888 0.898 0.908 0.919 0.929 0.933 0.933 0.933 0.933 0.933 0.933 0.933 0.933 0.933 0.933"/></feComponentTransfer><feComposite in2="SourceGraphic" operator="in"/></filter>
<filter id="fBR" x="0" y="0" width="100%" height="100%" color-interpolation-filters="sRGB"><feTurbulence type="fractalNoise" baseFrequency="0.45" numOctaves="2" seed="21"/><feColorMatrix type="matrix" values="0 0 0 1 0 0 0 0 1 0 0 0 0 1 0 0 0 0 0 1"/><feComponentTransfer><feFuncR type="table" tableValues="0.557 0.557 0.557 0.557 0.557 0.557 0.557 0.557 0.557 0.557 0.565 0.584 0.604 0.624 0.643 0.663 0.682 0.698 0.714 0.730 0.746 0.762 0.778 0.784 0.784 0.784 0.784 0.784 0.784 0.784 0.784 0.784 0.784"/><feFuncG type="table" tableValues="0.275 0.275 0.275 0.275 0.275 0.275 0.275 0.275 0.275 0.275 0.282 0.302 0.322 0.341 0.361 0.380 0.400 0.420 0.439 0.459 0.478 0.498 0.518 0.525 0.525 0.525 0.525 0.525 0.525 0.525 0.525 0.525 0.525"/><feFuncB type="table" tableValues="0.157 0.157 0.157 0.157 0.157 0.157 0.157 0.157 0.157 0.157 0.164 0.181 0.198 0.215 0.232 0.250 0.267 0.284 0.301 0.318 0.335 0.352 0.370 0.376 0.376 0.376 0.376 0.376 0.376 0.376 0.376 0.376 0.376"/></feComponentTransfer><feComposite in2="SourceGraphic" operator="in"/></filter>
<filter id="sBlue" x="0" y="0" width="100%" height="100%" color-interpolation-filters="sRGB"><feTurbulence type="fractalNoise" baseFrequency="0.6" numOctaves="2" seed="14"/><feColorMatrix type="matrix" values="0 0 0 0 0.525 0 0 0 0 0.596 0 0 0 0 0.784 0 0 0 -7 3.780"/><feComposite in2="SourceGraphic" operator="in"/></filter>
<clipPath id="cTL"><rect x="268.6" y="413" width="124.4" height="109.8"/></clipPath>
<clipPath id="cTR"><rect x="393" y="413" width="124.7" height="109.8"/></clipPath>
<clipPath id="cBL"><rect x="268.6" y="522.8" width="124.4" height="110.2"/></clipPath>
<clipPath id="cBR"><rect x="393" y="522.8" width="124.7" height="110.5"/></clipPath>
<filter id="rough" x="-5%" y="-5%" width="110%" height="110%" color-interpolation-filters="sRGB"><feTurbulence type="fractalNoise" baseFrequency="0.12" numOctaves="2" seed="2" result="t"/><feDisplacementMap in="SourceGraphic" in2="t" scale="7" xChannelSelector="R" yChannelSelector="G"/></filter>
<filter id="rough2" x="-5%" y="-5%" width="110%" height="110%" color-interpolation-filters="sRGB"><feTurbulence type="fractalNoise" baseFrequency="0.08" numOctaves="2" seed="6" result="t"/><feDisplacementMap in="SourceGraphic" in2="t" scale="5" xChannelSelector="R" yChannelSelector="G"/></filter>
<filter id="blur3" x="-20%" y="-20%" width="140%" height="140%"><feGaussianBlur stdDeviation="3"/></filter>
<filter id="blur6" x="-30%" y="-30%" width="160%" height="160%"><feGaussianBlur stdDeviation="6"/></filter>
</defs>
<g clip-path="url(#cTL)"><g filter="url(#rough)">
<clipPath id="kTL"><path d="M260,405 L401,405 L401,430 L393,433 L384.3,436 L376.7,446 L366.5,455 L359,462.6 L362.7,474 L353.8,486.7 L341,494.3 L326,498 L313.2,504.4 L305.6,514.6 L300.5,523 L297,531 L260,531 Z"/></clipPath>
<g clip-path="url(#kTL)"><rect x="260" y="404" width="142" height="128" fill="#000" filter="url(#fTL)"/>
<rect x="180" y="330" width="300" height="280" fill="#000" filter="url(#sTLa)" transform="rotate(-42 330 468)"/>
<mask id="mBand" maskUnits="userSpaceOnUse" x="260" y="405" width="140" height="125"><polyline points="393,433 384.3,436 376.7,446 366.5,455 359,462.6 362.7,474 353.8,486.7 341,494.3 326,498 313.2,504.4 305.6,514.6 300.5,523" fill="none" stroke="#fff" stroke-width="34" filter="url(#blur6)" transform="translate(-8,-8)"/></mask>
<g mask="url(#mBand)"><rect x="180" y="330" width="300" height="280" fill="#000" filter="url(#sTLb)" transform="rotate(-40 330 468)"/></g>
<path d="M345,462 L354,457 L359,462.6 L362.7,474 L353.8,486.7 L341,494.3 L326,498 L313.2,504.4 L316,499 L326,492 L336,484 L342,474 Z" fill="#f4f2f6" opacity="0.85" filter="url(#blur3)"/>
<path d="M345,462 L354,457 L359,462.6 L362.7,474 L353.8,486.7 L341,494.3 L326,498 L313.2,504.4 L316,499 L326,492 L336,484 L342,474 Z" fill="#000" filter="url(#sBlue)"/>
<ellipse cx="290" cy="468" rx="3.4" ry="1.2" fill="#5a2810" transform="rotate(-15 290 468)"/>
</g></g></g>
<g clip-path="url(#cTR)"><g filter="url(#rough)">
<clipPath id="kTR"><path d="M385,432 L393,429.6 L398,432 L410.8,427 L421,424.5 L438.8,427 L449,434.6 L458.2,441 L467.3,445.5 L476.4,451 L482.8,458.3 L485.2,468.3 L476,465 L465.5,463 L471,472 L481.9,480.1 L492.8,486.5 L502,495.6 L509.2,508.4 L514.7,521.1 L515.5,523 L520,531 L385,531 Z"/></clipPath>
<defs><linearGradient id="gTR" x1="0.35" y1="0" x2="0.15" y2="1"><stop offset="0" stop-color="#8a3c1c" stop-opacity="0.72"/><stop offset="0.28" stop-color="#a0502c" stop-opacity="0.4"/><stop offset="0.6" stop-color="#a0502c" stop-opacity="0.0"/></linearGradient></defs>
<path d="M385,432 L393,429.6 L398,432 L410.8,427 L421,424.5 L438.8,427 L449,434.6 L458.2,441 L467.3,445.5 L476.4,451 L482.8,458.3 L485.2,468.3 L476,465 L465.5,463 L471,472 L481.9,480.1 L492.8,486.5 L502,495.6 L509.2,508.4 L514.7,521.1 L515.5,523 L520,531 L385,531 Z" fill="#000" filter="url(#fTR)"/>
<path d="M385,432 L393,429.6 L398,432 L410.8,427 L421,424.5 L438.8,427 L449,434.6 L458.2,441 L467.3,445.5 L476.4,451 L482.8,458.3 L485.2,468.3 L476,465 L465.5,463 L471,472 L481.9,480.1 L492.8,486.5 L502,495.6 L509.2,508.4 L514.7,521.1 L515.5,523 L520,531 L385,531 Z" fill="#000" filter="url(#sTR)"/>
<path d="M385,432 L393,429.6 L398,432 L410.8,427 L421,424.5 L438.8,427 L449,434.6 L458.2,441 L467.3,445.5 L476.4,451 L482.8,458.3 L485.2,468.3 L476,465 L465.5,463 L471,472 L481.9,480.1 L492.8,486.5 L502,495.6 L509.2,508.4 L514.7,521.1 L515.5,523 L520,531 L385,531 Z" fill="url(#gTR)"/>
<g clip-path="url(#kTR)"><polyline points="398,432 410.8,427 421,424.5 438.8,427 449,434.6 458.2,441 467.3,445.5 476.4,451 482.8,458.3 485.2,468.3 476,465 465.5,463 471,472 481.9,480.1 492.8,486.5 502,495.6 509.2,508.4 514.7,521.1 515.5,523" fill="none" stroke="#7a3418" stroke-width="9" opacity="0.5" filter="url(#blur3)"/>
<ellipse cx="456" cy="502" rx="12" ry="8" fill="#fff" opacity="0.35" filter="url(#blur3)"/></g>
<path d="M385,432 L393,429.6 L398,432 L410.8,427 L421,424.5 L438.8,427 L449,434.6 L458.2,441 L467.3,445.5 L476.4,451 L482.8,458.3 L485.2,468.3 L476,465 L465.5,463 L471,472 L481.9,480.1 L492.8,486.5 L502,495.6 L509.2,508.4 L514.7,521.1 L515.5,523 L520,531 L385,531 Z" fill="#000" filter="url(#sTRd)" opacity="0.42"/>
</g></g>
<g clip-path="url(#cBL)">
<rect x="268.6" y="522.8" width="124.4" height="110.2" fill="#000" filter="url(#fBLfo)"/>
<path d="M268.6,540 L272.6,545 L280,556 L287.8,570.8 L291,584 L293,596 L300,610 L308,621.5 L315.8,633 L268.6,633 Z" fill="#000" filter="url(#fBLbg)"/>
<g filter="url(#rough2)">
<path d="M289,570.8 L298,560.6 L312,558 L326,568 L332,588.5 L319.6,597.4 L303,593.6 L293,586 Z" fill="none" stroke="#f0e6e2" stroke-width="2.3" stroke-linejoin="round" stroke-linecap="round" opacity="0.92"/>
<path d="M318.3,542.8 L331,537.8 L353.8,539 L366.5,548 L371.6,568.2 L361.4,583.5 L341,591 L332,588.5 L326,568 L319.6,553 Z" fill="none" stroke="#f0e6e2" stroke-width="2.3" stroke-linejoin="round" stroke-linecap="round" opacity="0.92"/>
<path d="M371.6,568.2 L380,562 L393,560 M361.4,583.5 L372,592 L384,596 L393,596" fill="none" stroke="#f0e6e2" stroke-width="2.3" stroke-linejoin="round" stroke-linecap="round" opacity="0.92"/>
<path d="M323.4,603.8 L338.6,596 L353.8,603.8 L359,621.5 L350,633 M323.4,603.8 L315.8,616.4 L320,633" fill="none" stroke="#f0e6e2" stroke-width="2.3" stroke-linejoin="round" stroke-linecap="round" opacity="0.92"/>
<path d="M362,612 L368,604 L378,601 L388,604 L393,610 M362,612 L361,624 L366,633" fill="none" stroke="#f0e6e2" stroke-width="2.3" stroke-linejoin="round" stroke-linecap="round" opacity="0.92"/>
<path d="M366.5,548 L371.6,537.8 L380,530 L393,527 M318.3,542.8 L306,538 L296,540 L287,548 M331,537.8 L340,530 L356,524" fill="none" stroke="#f0e6e2" stroke-width="2.3" stroke-linejoin="round" stroke-linecap="round" opacity="0.92"/>
<path d="M303,593.6 L300,610 M319.6,597.4 L323.4,603.8 M341,591 L338.6,596 M353.8,603.8 L361.4,583.5" fill="none" stroke="#f0e6e2" stroke-width="2.3" stroke-linejoin="round" stroke-linecap="round" opacity="0.92"/>
</g>
<ellipse cx="306" cy="576" rx="9" ry="8" fill="#7482b8" opacity="0.35" filter="url(#blur3)"/>
<g filter="url(#rough2)">
<ellipse cx="276.4" cy="550.5" rx="4" ry="3" fill="#8a4420" opacity="0.85"/>
<ellipse cx="277.7" cy="567" rx="3" ry="3.6" fill="#8a4420" opacity="0.85"/>
<ellipse cx="356.4" cy="593.6" rx="6.5" ry="3.6" fill="#8a4420" opacity="0.85"/>
<ellipse cx="352" cy="598" rx="3" ry="2.5" fill="#8a4420" opacity="0.85"/>
<ellipse cx="364" cy="589" rx="3" ry="2.5" fill="#8a4420" opacity="0.85"/>
<ellipse cx="306.9" cy="601.2" rx="2.6" ry="2.2" fill="#8a4420" opacity="0.85"/>
<ellipse cx="341" cy="548" rx="2" ry="2.6" fill="#8a4420" opacity="0.85"/>
<ellipse cx="333.5" cy="567" rx="1.5" ry="1.5" fill="#8a4420" opacity="0.85"/>
<ellipse cx="336" cy="614" rx="2.2" ry="1.6" fill="#8a4420" opacity="0.85"/>
<ellipse cx="342" cy="616" rx="1.8" ry="1.4" fill="#8a4420" opacity="0.85"/>
<ellipse cx="330" cy="611" rx="1.5" ry="1.3" fill="#8a4420" opacity="0.85"/>
<ellipse cx="380" cy="543" rx="2.5" ry="2" fill="#8a4420" opacity="0.85"/>
<ellipse cx="388" cy="590" rx="3" ry="2" fill="#8a4420" opacity="0.85"/>
<ellipse cx="390" cy="552" rx="2" ry="3" fill="#8a4420" opacity="0.85"/>
<ellipse cx="296" cy="537" rx="2" ry="1.6" fill="#8a4420" opacity="0.85"/>
<ellipse cx="374" cy="596" rx="2.4" ry="1.6" fill="#8a4420" opacity="0.85"/>
<ellipse cx="347" cy="572" rx="1.3" ry="1.3" fill="#8a4420" opacity="0.85"/>
<ellipse cx="352" cy="558" rx="1.2" ry="1.2" fill="#8a4420" opacity="0.85"/>
</g>
</g>
<g clip-path="url(#cBR)"><g filter="url(#rough)">
<clipPath id="kBR"><path d="M385,533.5 L425,534 L440,534.6 L463.7,537.3 L476.4,543.7 L485.5,560 L492.8,578.3 L500.1,594.7 L503.8,607.4 L500.1,622 L491,629.3 L476.4,627.5 L461.9,618.4 L449.1,609.3 L440,602.9 L435,594 L428.5,584.6 L424.6,577 L423,567.7 L418.5,560.8 L408.5,553 L399.2,548.5 L393,547.7 L385,547.7 Z"/></clipPath>
<path d="M385,533.5 L425,534 L440,534.6 L463.7,537.3 L476.4,543.7 L485.5,560 L492.8,578.3 L500.1,594.7 L503.8,607.4 L500.1,622 L491,629.3 L476.4,627.5 L461.9,618.4 L449.1,609.3 L440,602.9 L435,594 L428.5,584.6 L424.6,577 L423,567.7 L418.5,560.8 L408.5,553 L399.2,548.5 L393,547.7 L385,547.7 Z" fill="#000" filter="url(#fBR)"/>
<g clip-path="url(#kBR)"><path d="M466.3,540.5 C473,548.5 480.9,562.4 490,582.5 C493,590.5 494,597 491,603" fill="none" stroke="#c8c8d8" stroke-width="3.6" opacity="0.8"/><path d="M463.7,537.3 L476.4,543.7 L485.5,560 L492.8,578.3 L500.1,594.7 L503.8,607.4" fill="none" stroke="#6a2c10" stroke-width="2.4" opacity="0.8"/>
<path d="M463,538 C470,547 478,562 487,583 C490,592 491,598 489,603" fill="none" stroke="#5a2008" stroke-width="1.4" opacity="0.7"/>
<path d="M503.8,607.4 L500.1,622 L491,629.3 L476.4,627.5 L461.9,618.4 L449.1,609.3" fill="none" stroke="#6a2c10" stroke-width="5" opacity="0.45" filter="url(#blur3)"/>
<path d="M425,538 L430,541 L437,540" fill="none" stroke="#f0e4de" stroke-width="1.8" opacity="0.85"/></g>
<path d="M436,552 C442,563 451,580 460,596.5 L463.7,603.8" fill="none" stroke="#dcd4d8" stroke-width="2.2" opacity="0.8"/>
<path d="M423,567.5 L428,565.5 L433.5,565.5" fill="none" stroke="#f4ece8" stroke-width="1.5" opacity="0.95"/>
<ellipse cx="392.5" cy="577" rx="6.5" ry="9" fill="#a4603c"/>
<path d="M393,622 L397,626 L396,633 L393,633 Z" fill="#a05a34"/>
</g></g>
<rect x="268.6" y="413.2" width="249.1" height="220.2" fill="none" stroke="#1a1a1a" stroke-width="1.5"/>
<line x1="393" y1="413.2" x2="393" y2="633.4" stroke="#1a1a1a" stroke-width="1.4"/>
<line x1="268.6" y1="522.8" x2="517.7" y2="522.8" stroke="#1a1a1a" stroke-width="1.4"/>
<rect x="270" y="414.2" width="71" height="10.5" fill="#fff" opacity="0.45"/>
<rect x="269.6" y="523.6" width="72" height="12.4" fill="#fff" opacity="0.62"/>
<rect x="393.7" y="523.5" width="69" height="11" fill="#dbbca8"/>
<text x="272.7" y="423" font-size="9.3" text-anchor="start" fill="#000" stroke="#000" stroke-width="0.25">MHC-II Negative</text>
<text x="396.5" y="422.8" font-size="9.3" text-anchor="start" fill="#000" stroke="#000" stroke-width="0.25">MHC-II Positive</text>
<text x="272.7" y="533.8" font-size="9.3" text-anchor="start" fill="#000" stroke="#000" stroke-width="0.25">MHC-II Negative</text>
<text x="396.5" y="533.6" font-size="9.3" text-anchor="start" fill="#000" stroke="#000" stroke-width="0.25">MHC-II Positive</text>
</svg></body></html>
